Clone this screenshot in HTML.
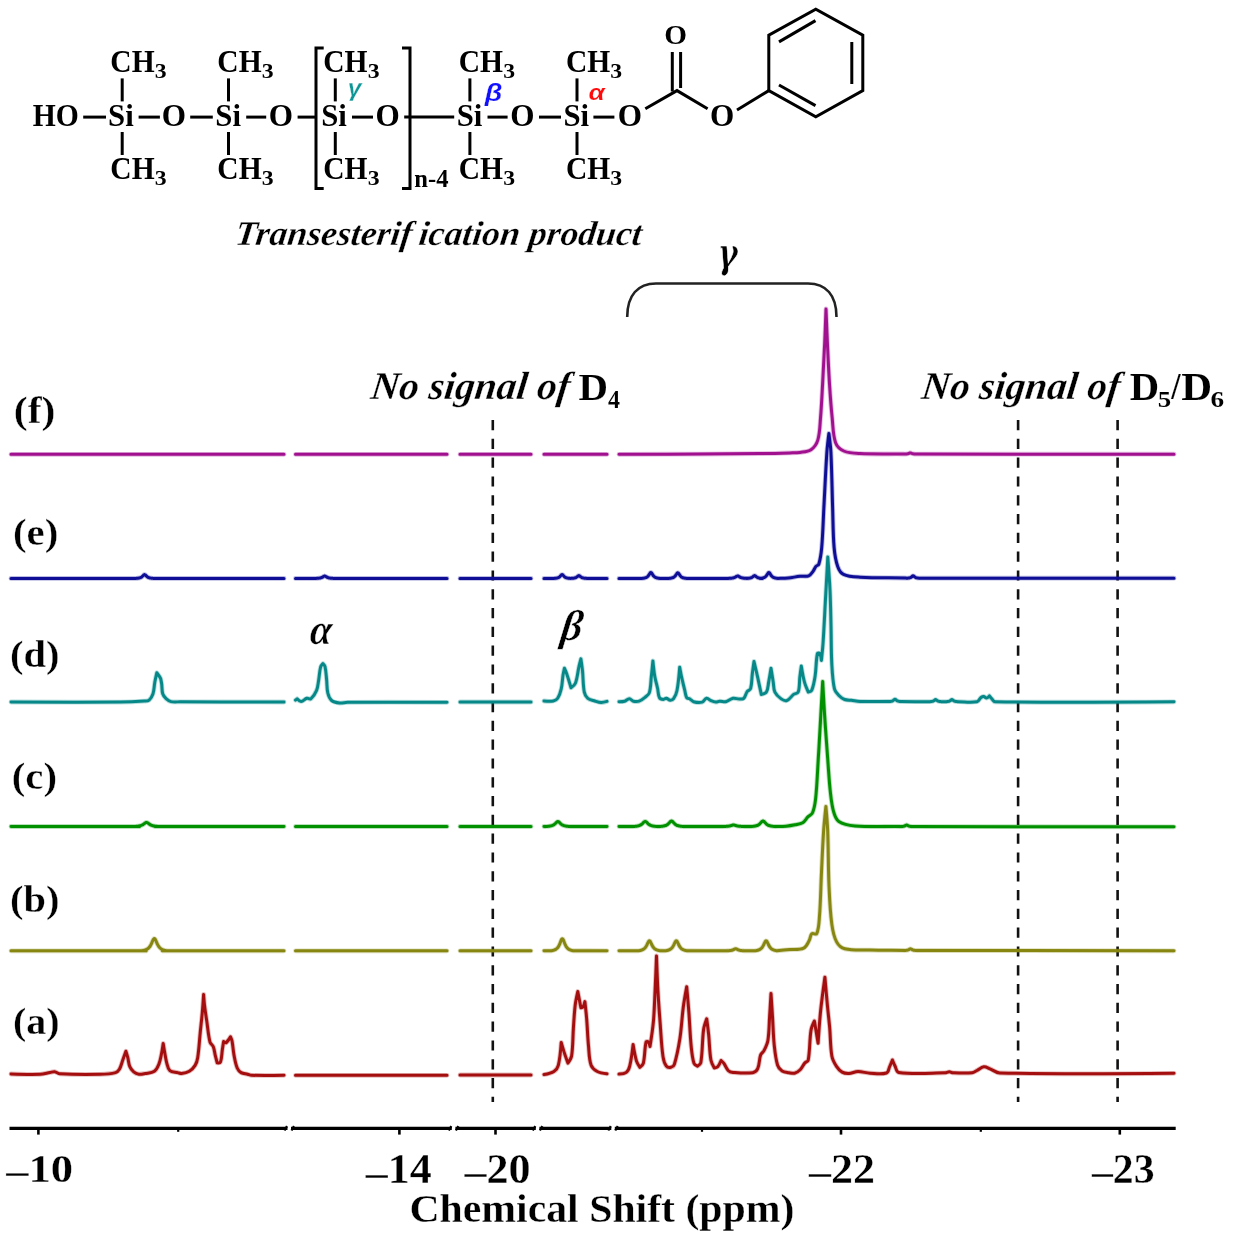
<!DOCTYPE html>
<html><head><meta charset="utf-8"><title>29Si NMR spectra</title>
<style>
html,body{margin:0;padding:0;background:#fff;}
svg{display:block;}
text{font-family:"Liberation Serif","Times New Roman",serif;font-weight:bold;font-size:100px;}
</style></head>
<body>
<svg width="1236" height="1242" viewBox="0 0 1236 1242">
<rect width="1236" height="1242" fill="#fff"/>
<g>
<g stroke="#000" stroke-width="3" fill="none"><line x1="83.2" y1="117.1" x2="106.0" y2="117.1"/><line x1="138.6" y1="117.1" x2="159.9" y2="117.1"/><line x1="190.2" y1="117.1" x2="212.8" y2="117.1"/><line x1="246.2" y1="117.1" x2="266.2" y2="117.1"/><line x1="297.6" y1="117.1" x2="316.8" y2="117.1"/><line x1="352.0" y1="117.1" x2="373.0" y2="117.1"/><line x1="404.2" y1="117.1" x2="454.2" y2="117.1"/><line x1="487.5" y1="117.1" x2="507.6" y2="117.1"/><line x1="539.0" y1="117.1" x2="561.0" y2="117.1"/><line x1="593.4" y1="117.1" x2="614.4" y2="117.1"/><line x1="122.2" y1="78.4" x2="122.2" y2="101.4"/><line x1="122.2" y1="132" x2="122.2" y2="155"/><line x1="228.5" y1="78.4" x2="228.5" y2="101.4"/><line x1="228.5" y1="132" x2="228.5" y2="155"/><line x1="335.3" y1="78.4" x2="335.3" y2="101.4"/><line x1="335.3" y1="132" x2="335.3" y2="155"/><line x1="469.9" y1="78.4" x2="469.9" y2="101.4"/><line x1="469.9" y1="132" x2="469.9" y2="155"/><line x1="577.0" y1="78.4" x2="577.0" y2="101.4"/><line x1="577.0" y1="132" x2="577.0" y2="155"/><path d="M323.7 47.9H316V188.4H323.7" fill="none"/><path d="M402 47.9H410V188.4H402" fill="none"/><path d="M645.3 108.7L677 90.6L707.6 108.7" fill="none"/><line x1="672.3" y1="52" x2="672.3" y2="91.5"/><line x1="680.6" y1="52" x2="680.6" y2="88"/><line x1="737" y1="110" x2="768.8" y2="90.6"/><path d="M768.8 90.6V35.1L815.8 9.1L862.8 35.1V90.6L815.8 116.7Z" fill="none" stroke-linejoin="miter"/><line x1="779" y1="41.9" x2="815.5" y2="20.6"/><line x1="851.8" y1="42" x2="851.8" y2="84"/><line x1="779" y1="85" x2="815.5" y2="105.6"/></g>
<path d="M627.2 317 C627.2 295 638 283.5 656 283.5 H808 C826 283.5 836.5 295 836.5 317" fill="none" stroke="#222" stroke-width="2.6"/>
<line x1="492.8" y1="420" x2="492.8" y2="1102" stroke="#111" stroke-width="2.6" stroke-dasharray="10.2 8.6"/><line x1="1018.1" y1="420" x2="1018.1" y2="1102" stroke="#111" stroke-width="2.6" stroke-dasharray="10.2 8.6"/><line x1="1117.6" y1="420" x2="1117.6" y2="1102" stroke="#111" stroke-width="2.6" stroke-dasharray="10.2 8.6"/>
<path d="M11.0 454.3L284.0 454.3M295.5 454.3L447.0 454.3M460.0 454.3L531.0 454.3M544.0 454.3L607.0 454.3M619.00 454.30C619.00 454.30 673.00 454.23 700.00 454.10C720.00 454.00 740.00 453.87 760.00 453.60C770.00 453.47 780.00 453.20 790.00 452.90C793.34 452.80 796.70 452.90 800.00 452.40C803.73 451.83 807.89 451.85 811.00 449.70C814.23 447.47 816.67 443.85 817.80 440.10C819.92 433.06 819.87 425.53 820.50 418.20C821.47 406.82 821.96 395.40 822.60 384.00C823.36 370.30 824.08 356.60 824.70 342.90C825.21 331.60 826.00 309.00 826.00 309.00C826.00 309.00 826.87 331.60 827.40 342.90C828.04 356.60 828.63 370.31 829.50 384.00C830.23 395.41 831.02 406.83 832.20 418.20C833.05 426.43 832.84 435.00 835.60 442.80C836.89 446.44 840.27 449.44 843.80 451.00C848.80 453.21 854.54 453.33 860.00 453.60C874.65 454.33 889.33 453.83 904.00 454.00C904.05 454.00 903.90 454.10 903.90 454.10C903.90 454.10 904.23 454.09 904.40 454.08C904.57 454.08 904.73 454.07 904.90 454.06C905.07 454.06 905.23 454.05 905.40 454.04C905.57 454.03 905.73 454.02 905.90 454.01C906.07 454.00 906.23 453.98 906.40 453.97C906.57 453.95 906.73 453.93 906.90 453.91C907.07 453.89 907.23 453.86 907.40 453.83C907.57 453.80 907.73 453.77 907.90 453.72C908.07 453.68 908.24 453.63 908.40 453.58C908.57 453.52 908.74 453.45 908.90 453.38C909.07 453.31 909.23 453.23 909.40 453.16C909.56 453.09 909.73 453.00 909.90 452.96C910.06 452.92 910.23 452.89 910.40 452.90C910.57 452.92 910.74 452.97 910.90 453.03C911.07 453.09 911.23 453.17 911.40 453.25C911.57 453.32 911.73 453.40 911.90 453.47C912.06 453.53 912.23 453.59 912.40 453.64C912.56 453.69 912.73 453.73 912.90 453.77C913.07 453.81 913.23 453.84 913.40 453.86C913.57 453.89 913.73 453.91 913.90 453.93C914.07 453.95 914.23 453.97 914.40 453.98C914.57 454.00 914.73 454.01 914.90 454.02C915.07 454.03 915.23 454.04 915.40 454.05C915.57 454.06 915.73 454.07 915.90 454.07C916.07 454.08 916.23 454.09 916.40 454.09C1002.27 454.13 1174.00 454.20 1174.00 454.20" fill="none" stroke="#a0108f" stroke-opacity="0.28" stroke-width="4.8" stroke-linejoin="round" stroke-linecap="round"/><path d="M11.0 454.3L284.0 454.3M295.5 454.3L447.0 454.3M460.0 454.3L531.0 454.3M544.0 454.3L607.0 454.3M619.00 454.30C619.00 454.30 673.00 454.23 700.00 454.10C720.00 454.00 740.00 453.87 760.00 453.60C770.00 453.47 780.00 453.20 790.00 452.90C793.34 452.80 796.70 452.90 800.00 452.40C803.73 451.83 807.89 451.85 811.00 449.70C814.23 447.47 816.67 443.85 817.80 440.10C819.92 433.06 819.87 425.53 820.50 418.20C821.47 406.82 821.96 395.40 822.60 384.00C823.36 370.30 824.08 356.60 824.70 342.90C825.21 331.60 826.00 309.00 826.00 309.00C826.00 309.00 826.87 331.60 827.40 342.90C828.04 356.60 828.63 370.31 829.50 384.00C830.23 395.41 831.02 406.83 832.20 418.20C833.05 426.43 832.84 435.00 835.60 442.80C836.89 446.44 840.27 449.44 843.80 451.00C848.80 453.21 854.54 453.33 860.00 453.60C874.65 454.33 889.33 453.83 904.00 454.00C904.05 454.00 903.90 454.10 903.90 454.10C903.90 454.10 904.23 454.09 904.40 454.08C904.57 454.08 904.73 454.07 904.90 454.06C905.07 454.06 905.23 454.05 905.40 454.04C905.57 454.03 905.73 454.02 905.90 454.01C906.07 454.00 906.23 453.98 906.40 453.97C906.57 453.95 906.73 453.93 906.90 453.91C907.07 453.89 907.23 453.86 907.40 453.83C907.57 453.80 907.73 453.77 907.90 453.72C908.07 453.68 908.24 453.63 908.40 453.58C908.57 453.52 908.74 453.45 908.90 453.38C909.07 453.31 909.23 453.23 909.40 453.16C909.56 453.09 909.73 453.00 909.90 452.96C910.06 452.92 910.23 452.89 910.40 452.90C910.57 452.92 910.74 452.97 910.90 453.03C911.07 453.09 911.23 453.17 911.40 453.25C911.57 453.32 911.73 453.40 911.90 453.47C912.06 453.53 912.23 453.59 912.40 453.64C912.56 453.69 912.73 453.73 912.90 453.77C913.07 453.81 913.23 453.84 913.40 453.86C913.57 453.89 913.73 453.91 913.90 453.93C914.07 453.95 914.23 453.97 914.40 453.98C914.57 454.00 914.73 454.01 914.90 454.02C915.07 454.03 915.23 454.04 915.40 454.05C915.57 454.06 915.73 454.07 915.90 454.07C916.07 454.08 916.23 454.09 916.40 454.09C1002.27 454.13 1174.00 454.20 1174.00 454.20" fill="none" stroke="#a0108f" stroke-width="3.0" stroke-linejoin="round" stroke-linecap="round"/><path d="M11.00 578.40C11.00 578.40 94.20 578.41 135.80 578.40C135.97 578.40 136.13 578.38 136.30 578.37C136.47 578.35 136.63 578.34 136.80 578.32C136.97 578.31 137.13 578.29 137.30 578.28C137.47 578.26 137.63 578.24 137.80 578.22C137.97 578.20 138.13 578.17 138.30 578.15C138.47 578.12 138.63 578.09 138.80 578.06C138.97 578.03 139.13 578.00 139.30 577.96C139.47 577.92 139.63 577.88 139.80 577.83C139.97 577.78 140.14 577.73 140.30 577.67C140.47 577.61 140.64 577.54 140.80 577.47C140.97 577.39 141.14 577.30 141.30 577.21C141.47 577.11 141.64 577.00 141.80 576.89C141.97 576.76 142.14 576.62 142.30 576.48C142.47 576.33 142.64 576.17 142.80 576.00C142.97 575.83 143.13 575.65 143.30 575.47C143.46 575.31 143.62 575.13 143.80 574.98C143.95 574.86 144.11 574.72 144.30 574.66C144.46 574.60 144.64 574.59 144.80 574.63C144.98 574.67 145.15 574.79 145.30 574.90C145.48 575.04 145.64 575.21 145.80 575.37C145.97 575.54 146.13 575.72 146.30 575.90C146.46 576.07 146.63 576.23 146.80 576.39C146.96 576.54 147.13 576.68 147.30 576.81C147.46 576.93 147.63 577.05 147.80 577.15C147.96 577.25 148.13 577.34 148.30 577.42C148.46 577.50 148.63 577.57 148.80 577.63C148.96 577.70 149.13 577.75 149.30 577.80C149.47 577.85 149.63 577.89 149.80 577.94C149.97 577.98 150.13 578.01 150.30 578.04C150.47 578.08 150.63 578.11 150.80 578.13C150.97 578.16 151.13 578.18 151.30 578.20C151.47 578.23 151.63 578.25 151.80 578.26C151.97 578.28 152.13 578.30 152.30 578.32C152.47 578.33 152.63 578.34 152.80 578.36C152.97 578.37 153.13 578.39 153.30 578.39C196.87 578.41 284.00 578.40 284.00 578.40M295.50 578.40C295.50 578.40 309.10 578.41 315.90 578.40C316.07 578.40 316.23 578.39 316.40 578.38C316.57 578.37 316.73 578.36 316.90 578.35C317.07 578.34 317.23 578.33 317.40 578.32C317.57 578.31 317.73 578.30 317.90 578.28C318.07 578.27 318.23 578.26 318.40 578.24C318.57 578.22 318.73 578.21 318.90 578.19C319.07 578.17 319.23 578.15 319.40 578.12C319.57 578.10 319.73 578.07 319.90 578.04C320.07 578.01 320.23 577.98 320.40 577.94C320.57 577.90 320.73 577.86 320.90 577.81C321.07 577.76 321.24 577.71 321.40 577.65C321.57 577.59 321.74 577.52 321.90 577.44C322.07 577.37 322.24 577.28 322.40 577.19C322.57 577.09 322.74 576.99 322.90 576.89C323.07 576.78 323.23 576.66 323.40 576.55C323.56 576.45 323.73 576.33 323.90 576.24C324.06 576.16 324.22 576.08 324.40 576.04C324.56 576.00 324.74 575.99 324.90 576.02C325.07 576.04 325.24 576.11 325.40 576.19C325.58 576.27 325.74 576.38 325.90 576.49C326.07 576.59 326.23 576.71 326.40 576.82C326.56 576.93 326.73 577.03 326.90 577.13C327.06 577.23 327.23 577.32 327.40 577.40C327.56 577.47 327.73 577.55 327.90 577.61C328.06 577.67 328.23 577.73 328.40 577.78C328.57 577.83 328.73 577.87 328.90 577.92C329.07 577.96 329.23 577.99 329.40 578.02C329.57 578.05 329.73 578.08 329.90 578.11C330.07 578.13 330.23 578.15 330.40 578.18C330.57 578.20 330.73 578.21 330.90 578.23C331.07 578.25 331.23 578.26 331.40 578.28C331.57 578.29 331.73 578.30 331.90 578.31C332.07 578.33 332.23 578.34 332.40 578.35C332.57 578.36 332.73 578.36 332.90 578.37C333.07 578.38 333.23 578.40 333.40 578.40C371.27 578.40 447.00 578.40 447.00 578.40M460.0 578.4L531.0 578.4M544.00 578.40C544.00 578.40 550.73 578.41 554.10 578.40C554.27 578.40 554.43 578.38 554.60 578.36C554.77 578.35 554.93 578.33 555.10 578.32C555.27 578.30 555.43 578.28 555.60 578.26C555.77 578.24 555.93 578.22 556.10 578.19C556.27 578.17 556.43 578.14 556.60 578.11C556.77 578.08 556.93 578.04 557.10 578.00C557.27 577.96 557.43 577.92 557.60 577.87C557.77 577.82 557.94 577.77 558.10 577.70C558.27 577.64 558.44 577.57 558.60 577.49C558.77 577.40 558.94 577.31 559.10 577.21C559.27 577.10 559.44 576.98 559.60 576.85C559.77 576.71 559.94 576.55 560.10 576.39C560.27 576.22 560.44 576.03 560.60 575.85C560.77 575.66 560.92 575.45 561.10 575.27C561.26 575.10 561.41 574.92 561.60 574.79C561.75 574.69 561.92 574.60 562.10 574.60C562.28 574.60 562.45 574.69 562.60 574.79C562.79 574.92 562.94 575.10 563.10 575.27C563.28 575.45 563.43 575.66 563.60 575.85C563.76 576.03 563.93 576.22 564.10 576.39C564.26 576.55 564.43 576.71 564.60 576.85C564.76 576.98 564.93 577.10 565.10 577.21C565.26 577.31 565.43 577.40 565.60 577.49C565.76 577.57 565.93 577.64 566.10 577.70C566.26 577.77 566.43 577.82 566.60 577.87C566.77 577.92 566.93 577.96 567.10 578.00C567.27 578.04 567.43 578.08 567.60 578.11C567.77 578.14 567.93 578.17 568.10 578.19C568.27 578.22 568.43 578.24 568.60 578.26C568.77 578.28 568.93 578.30 569.10 578.32C569.27 578.33 569.43 578.35 569.60 578.36C569.77 578.38 569.93 578.40 570.10 578.40C570.53 578.40 570.97 578.39 571.40 578.37C571.57 578.37 571.73 578.35 571.90 578.34C572.07 578.32 572.23 578.31 572.40 578.30C572.57 578.28 572.73 578.26 572.90 578.25C573.07 578.23 573.23 578.21 573.40 578.18C573.57 578.16 573.73 578.14 573.90 578.11C574.07 578.08 574.23 578.05 574.40 578.01C574.57 577.97 574.73 577.93 574.90 577.89C575.07 577.84 575.24 577.79 575.40 577.73C575.57 577.67 575.74 577.60 575.90 577.52C576.07 577.44 576.24 577.35 576.40 577.26C576.57 577.15 576.74 577.04 576.90 576.92C577.07 576.79 577.24 576.65 577.40 576.52C577.57 576.38 577.73 576.23 577.90 576.09C578.06 575.97 578.22 575.83 578.40 575.74C578.56 575.66 578.73 575.60 578.90 575.60C579.07 575.60 579.24 575.66 579.40 575.74C579.58 575.83 579.74 575.97 579.90 576.09C580.07 576.23 580.23 576.38 580.40 576.52C580.56 576.65 580.73 576.79 580.90 576.92C581.06 577.04 581.23 577.15 581.40 577.26C581.56 577.35 581.73 577.44 581.90 577.52C582.06 577.60 582.23 577.67 582.40 577.73C582.56 577.79 582.73 577.84 582.90 577.89C583.07 577.93 583.23 577.97 583.40 578.01C583.57 578.05 583.73 578.08 583.90 578.11C584.07 578.14 584.23 578.16 584.40 578.18C584.57 578.21 584.73 578.23 584.90 578.25C585.07 578.26 585.23 578.28 585.40 578.30C585.57 578.31 585.73 578.32 585.90 578.34C586.07 578.35 586.23 578.36 586.40 578.37C586.57 578.38 586.73 578.40 586.90 578.40C593.60 578.41 607.00 578.40 607.00 578.40M619.00 578.40C619.00 578.40 634.40 578.42 642.10 578.40C642.27 578.40 642.43 578.37 642.60 578.35C642.77 578.33 642.93 578.31 643.10 578.28C643.27 578.26 643.43 578.23 643.60 578.21C643.77 578.18 643.93 578.15 644.10 578.12C644.27 578.08 644.43 578.05 644.60 578.01C644.77 577.97 644.93 577.93 645.10 577.88C645.27 577.83 645.44 577.78 645.60 577.72C645.77 577.65 645.94 577.59 646.10 577.52C646.27 577.44 646.44 577.36 646.60 577.27C646.77 577.17 646.94 577.06 647.10 576.95C647.27 576.83 647.44 576.69 647.60 576.55C647.78 576.39 647.94 576.22 648.10 576.05C648.28 575.85 648.44 575.64 648.60 575.42C648.78 575.18 648.94 574.93 649.10 574.68C649.27 574.41 649.43 574.13 649.60 573.86C649.76 573.60 649.91 573.33 650.10 573.09C650.25 572.91 650.39 572.70 650.60 572.59C650.75 572.51 650.94 572.48 651.10 572.54C651.30 572.62 651.46 572.80 651.60 572.96C651.79 573.19 651.94 573.45 652.10 573.69C652.27 573.96 652.43 574.24 652.60 574.52C652.76 574.77 652.92 575.03 653.10 575.28C653.26 575.51 653.42 575.72 653.60 575.93C653.76 576.12 653.92 576.29 654.10 576.46C654.26 576.61 654.43 576.75 654.60 576.88C654.76 577.00 654.93 577.11 655.10 577.21C655.26 577.30 655.43 577.39 655.60 577.47C655.76 577.55 655.93 577.62 656.10 577.68C656.26 577.74 656.43 577.80 656.60 577.85C656.77 577.90 656.93 577.94 657.10 577.98C657.27 578.03 657.43 578.06 657.60 578.10C657.77 578.13 657.93 578.16 658.10 578.19C658.27 578.22 658.43 578.24 658.60 578.27C658.77 578.29 658.93 578.31 659.10 578.33C659.27 578.35 659.43 578.39 659.60 578.39C662.73 578.41 665.87 578.41 669.00 578.40C669.17 578.40 669.33 578.37 669.50 578.35C669.67 578.33 669.83 578.31 670.00 578.29C670.17 578.27 670.33 578.24 670.50 578.22C670.67 578.19 670.83 578.16 671.00 578.13C671.17 578.10 671.33 578.07 671.50 578.03C671.67 577.99 671.83 577.95 672.00 577.90C672.17 577.86 672.34 577.81 672.50 577.75C672.67 577.69 672.84 577.63 673.00 577.56C673.17 577.49 673.34 577.41 673.50 577.32C673.67 577.23 673.84 577.13 674.00 577.02C674.17 576.91 674.34 576.78 674.50 576.65C674.68 576.50 674.84 576.34 675.00 576.17C675.18 575.98 675.34 575.78 675.50 575.57C675.68 575.35 675.84 575.11 676.00 574.87C676.17 574.61 676.33 574.34 676.50 574.09C676.66 573.84 676.81 573.59 677.00 573.36C677.15 573.19 677.30 572.99 677.50 572.89C677.65 572.81 677.84 572.78 678.00 572.84C678.20 572.91 678.36 573.08 678.50 573.24C678.69 573.45 678.84 573.70 679.00 573.93C679.17 574.19 679.33 574.46 679.50 574.71C679.66 574.96 679.82 575.21 680.00 575.44C680.16 575.65 680.32 575.86 680.50 576.06C680.66 576.23 680.82 576.40 681.00 576.56C681.16 576.70 681.33 576.83 681.50 576.96C681.66 577.07 681.83 577.17 682.00 577.27C682.16 577.36 682.33 577.44 682.50 577.52C682.66 577.59 682.83 577.66 683.00 577.72C683.16 577.77 683.33 577.83 683.50 577.88C683.67 577.92 683.83 577.97 684.00 578.01C684.17 578.04 684.33 578.08 684.50 578.11C684.67 578.14 684.83 578.17 685.00 578.20C685.17 578.23 685.33 578.25 685.50 578.27C685.67 578.30 685.83 578.32 686.00 578.34C686.17 578.36 686.33 578.39 686.50 578.39C700.37 578.41 714.23 578.40 728.10 578.40C728.27 578.40 728.43 578.39 728.60 578.38C728.77 578.37 728.93 578.37 729.10 578.36C729.27 578.35 729.43 578.34 729.60 578.33C729.77 578.32 729.93 578.31 730.10 578.30C730.27 578.29 730.43 578.27 730.60 578.26C730.77 578.25 730.93 578.23 731.10 578.22C731.27 578.20 731.43 578.18 731.60 578.16C731.77 578.14 731.93 578.12 732.10 578.10C732.27 578.07 732.43 578.05 732.60 578.02C732.77 577.99 732.93 577.96 733.10 577.92C733.27 577.88 733.43 577.84 733.60 577.80C733.77 577.75 733.94 577.70 734.10 577.65C734.27 577.59 734.44 577.53 734.60 577.46C734.77 577.39 734.94 577.32 735.10 577.23C735.27 577.15 735.44 577.06 735.60 576.97C735.77 576.87 735.93 576.76 736.10 576.66C736.27 576.56 736.43 576.46 736.60 576.36C736.76 576.27 736.93 576.18 737.10 576.12C737.26 576.06 737.43 576.01 737.60 576.00C737.77 575.99 737.94 576.01 738.10 576.05C738.27 576.10 738.44 576.18 738.60 576.25C738.77 576.34 738.93 576.44 739.10 576.54C739.27 576.64 739.43 576.75 739.60 576.85C739.77 576.95 739.93 577.04 740.10 577.13C740.26 577.22 740.43 577.30 740.60 577.38C740.76 577.45 740.93 577.52 741.10 577.58C741.26 577.64 741.43 577.69 741.60 577.74C741.77 577.79 741.93 577.83 742.10 577.87C742.27 577.91 742.43 577.95 742.60 577.98C742.77 578.01 742.93 578.04 743.10 578.07C743.27 578.09 743.43 578.12 743.60 578.14C743.77 578.16 743.93 578.18 744.10 578.20C744.27 578.21 744.43 578.23 744.60 578.24C744.77 578.26 744.93 578.27 745.10 578.28C745.27 578.30 745.43 578.31 745.60 578.32C745.77 578.33 745.93 578.34 746.10 578.35C746.27 578.36 746.43 578.36 746.60 578.37C746.77 578.38 747.10 578.23 747.10 578.39C747.10 578.56 746.60 578.40 746.60 578.40C746.60 578.40 746.93 578.38 747.10 578.37C747.27 578.36 747.43 578.35 747.60 578.34C747.77 578.32 747.93 578.31 748.10 578.30C748.27 578.28 748.43 578.26 748.60 578.25C748.77 578.23 748.93 578.21 749.10 578.18C749.27 578.16 749.43 578.14 749.60 578.11C749.77 578.08 749.93 578.05 750.10 578.01C750.27 577.97 750.43 577.93 750.60 577.89C750.77 577.84 750.94 577.79 751.10 577.73C751.27 577.67 751.44 577.60 751.60 577.52C751.77 577.44 751.94 577.35 752.10 577.26C752.27 577.15 752.44 577.04 752.60 576.92C752.77 576.79 752.94 576.65 753.10 576.52C753.27 576.38 753.43 576.23 753.60 576.09C753.76 575.97 753.92 575.83 754.10 575.74C754.26 575.66 754.43 575.60 754.60 575.60C754.77 575.60 754.94 575.66 755.10 575.74C755.28 575.83 755.44 575.97 755.60 576.09C755.77 576.23 755.93 576.38 756.10 576.52C756.26 576.65 756.43 576.79 756.60 576.92C756.76 577.04 756.93 577.15 757.10 577.26C757.26 577.35 757.43 577.44 757.60 577.52C757.76 577.60 757.93 577.67 758.10 577.73C758.26 577.79 758.43 577.84 758.60 577.89C758.77 577.93 758.93 577.97 759.10 578.01C759.27 578.05 759.43 578.08 759.60 578.11C759.77 578.14 759.93 578.16 760.10 578.18C760.27 578.21 760.43 578.23 760.60 578.25C760.77 578.26 760.93 578.28 761.10 578.30C761.27 578.31 761.43 578.32 761.60 578.34C761.77 578.35 761.93 578.36 762.10 578.37C762.27 578.38 762.77 578.40 762.60 578.40C761.77 578.41 760.93 578.42 760.10 578.40C759.93 578.40 760.43 578.37 760.60 578.35C760.77 578.33 760.93 578.31 761.10 578.28C761.27 578.26 761.43 578.23 761.60 578.21C761.77 578.18 761.93 578.15 762.10 578.12C762.27 578.08 762.43 578.05 762.60 578.01C762.77 577.97 762.93 577.93 763.10 577.88C763.27 577.83 763.44 577.78 763.60 577.72C763.77 577.65 763.94 577.59 764.10 577.52C764.27 577.44 764.44 577.36 764.60 577.27C764.77 577.17 764.94 577.06 765.10 576.95C765.27 576.83 765.44 576.69 765.60 576.55C765.78 576.39 765.94 576.22 766.10 576.05C766.28 575.85 766.44 575.64 766.60 575.42C766.78 575.18 766.94 574.93 767.10 574.68C767.27 574.41 767.43 574.13 767.60 573.86C767.76 573.60 767.91 573.33 768.10 573.09C768.25 572.91 768.39 572.70 768.60 572.59C768.75 572.51 768.94 572.48 769.10 572.54C769.30 572.62 769.46 572.80 769.60 572.96C769.79 573.19 769.94 573.45 770.10 573.69C770.27 573.96 770.43 574.24 770.60 574.52C770.76 574.77 770.92 575.03 771.10 575.28C771.26 575.51 771.42 575.72 771.60 575.93C771.76 576.12 771.92 576.29 772.10 576.46C772.26 576.61 772.43 576.75 772.60 576.88C772.76 577.00 772.93 577.11 773.10 577.21C773.26 577.30 773.43 577.39 773.60 577.47C773.76 577.55 773.93 577.62 774.10 577.68C774.26 577.74 774.43 577.80 774.60 577.85C774.77 577.90 774.93 577.94 775.10 577.98C775.27 578.03 775.43 578.06 775.60 578.10C775.77 578.13 775.93 578.16 776.10 578.19C776.27 578.22 776.43 578.24 776.60 578.27C776.77 578.29 776.93 578.31 777.10 578.33C777.27 578.35 777.43 578.39 777.60 578.39C781.07 578.32 784.55 578.44 788.00 578.10C792.03 577.71 795.97 576.65 800.00 576.20C802.89 575.88 805.98 576.81 808.70 575.80C810.62 575.09 811.75 573.03 813.00 571.40C814.17 569.87 814.69 567.90 815.90 566.40C816.66 565.46 818.44 565.36 818.80 564.20C820.46 558.80 821.20 553.13 821.70 547.50C822.90 534.03 823.16 520.50 823.90 507.00C824.90 488.67 825.65 470.32 826.90 452.00C827.32 445.81 828.90 433.50 828.90 433.50C828.90 433.50 830.59 445.81 830.90 452.00C831.82 470.32 831.99 488.67 832.60 507.00C833.05 520.50 832.94 534.04 834.10 547.50C834.65 553.89 835.58 560.35 837.70 566.40C838.78 569.48 840.56 572.88 843.50 574.30C848.53 576.73 854.43 576.86 860.00 577.20C874.98 578.10 890.00 577.68 905.00 578.00C905.57 578.01 906.13 578.16 906.70 578.20C906.87 578.21 907.03 578.18 907.20 578.17C907.37 578.16 907.53 578.14 907.70 578.13C907.87 578.11 908.03 578.10 908.20 578.08C908.37 578.06 908.53 578.04 908.70 578.02C908.87 577.99 909.03 577.96 909.20 577.93C909.37 577.90 909.53 577.86 909.70 577.82C909.87 577.77 910.04 577.72 910.20 577.66C910.37 577.60 910.54 577.53 910.70 577.45C910.87 577.36 911.04 577.26 911.20 577.15C911.37 577.03 911.54 576.90 911.70 576.77C911.87 576.62 912.03 576.46 912.20 576.31C912.36 576.17 912.51 576.01 912.70 575.92C912.85 575.84 913.03 575.78 913.20 575.81C913.38 575.83 913.55 575.95 913.70 576.05C913.88 576.18 914.03 576.35 914.20 576.49C914.37 576.64 914.53 576.80 914.70 576.93C914.86 577.06 915.03 577.18 915.20 577.28C915.36 577.38 915.53 577.47 915.70 577.54C915.86 577.61 916.03 577.67 916.20 577.73C916.36 577.78 916.53 577.83 916.70 577.87C916.87 577.91 917.03 577.94 917.20 577.97C917.37 578.00 917.53 578.02 917.70 578.04C917.87 578.07 918.03 578.08 918.20 578.10C918.37 578.12 918.53 578.13 918.70 578.15C918.87 578.16 919.03 578.18 919.20 578.18C1004.13 578.20 1174.00 578.20 1174.00 578.20" fill="none" stroke="#0e0e96" stroke-opacity="0.28" stroke-width="4.8" stroke-linejoin="round" stroke-linecap="round"/><path d="M11.00 578.40C11.00 578.40 94.20 578.41 135.80 578.40C135.97 578.40 136.13 578.38 136.30 578.37C136.47 578.35 136.63 578.34 136.80 578.32C136.97 578.31 137.13 578.29 137.30 578.28C137.47 578.26 137.63 578.24 137.80 578.22C137.97 578.20 138.13 578.17 138.30 578.15C138.47 578.12 138.63 578.09 138.80 578.06C138.97 578.03 139.13 578.00 139.30 577.96C139.47 577.92 139.63 577.88 139.80 577.83C139.97 577.78 140.14 577.73 140.30 577.67C140.47 577.61 140.64 577.54 140.80 577.47C140.97 577.39 141.14 577.30 141.30 577.21C141.47 577.11 141.64 577.00 141.80 576.89C141.97 576.76 142.14 576.62 142.30 576.48C142.47 576.33 142.64 576.17 142.80 576.00C142.97 575.83 143.13 575.65 143.30 575.47C143.46 575.31 143.62 575.13 143.80 574.98C143.95 574.86 144.11 574.72 144.30 574.66C144.46 574.60 144.64 574.59 144.80 574.63C144.98 574.67 145.15 574.79 145.30 574.90C145.48 575.04 145.64 575.21 145.80 575.37C145.97 575.54 146.13 575.72 146.30 575.90C146.46 576.07 146.63 576.23 146.80 576.39C146.96 576.54 147.13 576.68 147.30 576.81C147.46 576.93 147.63 577.05 147.80 577.15C147.96 577.25 148.13 577.34 148.30 577.42C148.46 577.50 148.63 577.57 148.80 577.63C148.96 577.70 149.13 577.75 149.30 577.80C149.47 577.85 149.63 577.89 149.80 577.94C149.97 577.98 150.13 578.01 150.30 578.04C150.47 578.08 150.63 578.11 150.80 578.13C150.97 578.16 151.13 578.18 151.30 578.20C151.47 578.23 151.63 578.25 151.80 578.26C151.97 578.28 152.13 578.30 152.30 578.32C152.47 578.33 152.63 578.34 152.80 578.36C152.97 578.37 153.13 578.39 153.30 578.39C196.87 578.41 284.00 578.40 284.00 578.40M295.50 578.40C295.50 578.40 309.10 578.41 315.90 578.40C316.07 578.40 316.23 578.39 316.40 578.38C316.57 578.37 316.73 578.36 316.90 578.35C317.07 578.34 317.23 578.33 317.40 578.32C317.57 578.31 317.73 578.30 317.90 578.28C318.07 578.27 318.23 578.26 318.40 578.24C318.57 578.22 318.73 578.21 318.90 578.19C319.07 578.17 319.23 578.15 319.40 578.12C319.57 578.10 319.73 578.07 319.90 578.04C320.07 578.01 320.23 577.98 320.40 577.94C320.57 577.90 320.73 577.86 320.90 577.81C321.07 577.76 321.24 577.71 321.40 577.65C321.57 577.59 321.74 577.52 321.90 577.44C322.07 577.37 322.24 577.28 322.40 577.19C322.57 577.09 322.74 576.99 322.90 576.89C323.07 576.78 323.23 576.66 323.40 576.55C323.56 576.45 323.73 576.33 323.90 576.24C324.06 576.16 324.22 576.08 324.40 576.04C324.56 576.00 324.74 575.99 324.90 576.02C325.07 576.04 325.24 576.11 325.40 576.19C325.58 576.27 325.74 576.38 325.90 576.49C326.07 576.59 326.23 576.71 326.40 576.82C326.56 576.93 326.73 577.03 326.90 577.13C327.06 577.23 327.23 577.32 327.40 577.40C327.56 577.47 327.73 577.55 327.90 577.61C328.06 577.67 328.23 577.73 328.40 577.78C328.57 577.83 328.73 577.87 328.90 577.92C329.07 577.96 329.23 577.99 329.40 578.02C329.57 578.05 329.73 578.08 329.90 578.11C330.07 578.13 330.23 578.15 330.40 578.18C330.57 578.20 330.73 578.21 330.90 578.23C331.07 578.25 331.23 578.26 331.40 578.28C331.57 578.29 331.73 578.30 331.90 578.31C332.07 578.33 332.23 578.34 332.40 578.35C332.57 578.36 332.73 578.36 332.90 578.37C333.07 578.38 333.23 578.40 333.40 578.40C371.27 578.40 447.00 578.40 447.00 578.40M460.0 578.4L531.0 578.4M544.00 578.40C544.00 578.40 550.73 578.41 554.10 578.40C554.27 578.40 554.43 578.38 554.60 578.36C554.77 578.35 554.93 578.33 555.10 578.32C555.27 578.30 555.43 578.28 555.60 578.26C555.77 578.24 555.93 578.22 556.10 578.19C556.27 578.17 556.43 578.14 556.60 578.11C556.77 578.08 556.93 578.04 557.10 578.00C557.27 577.96 557.43 577.92 557.60 577.87C557.77 577.82 557.94 577.77 558.10 577.70C558.27 577.64 558.44 577.57 558.60 577.49C558.77 577.40 558.94 577.31 559.10 577.21C559.27 577.10 559.44 576.98 559.60 576.85C559.77 576.71 559.94 576.55 560.10 576.39C560.27 576.22 560.44 576.03 560.60 575.85C560.77 575.66 560.92 575.45 561.10 575.27C561.26 575.10 561.41 574.92 561.60 574.79C561.75 574.69 561.92 574.60 562.10 574.60C562.28 574.60 562.45 574.69 562.60 574.79C562.79 574.92 562.94 575.10 563.10 575.27C563.28 575.45 563.43 575.66 563.60 575.85C563.76 576.03 563.93 576.22 564.10 576.39C564.26 576.55 564.43 576.71 564.60 576.85C564.76 576.98 564.93 577.10 565.10 577.21C565.26 577.31 565.43 577.40 565.60 577.49C565.76 577.57 565.93 577.64 566.10 577.70C566.26 577.77 566.43 577.82 566.60 577.87C566.77 577.92 566.93 577.96 567.10 578.00C567.27 578.04 567.43 578.08 567.60 578.11C567.77 578.14 567.93 578.17 568.10 578.19C568.27 578.22 568.43 578.24 568.60 578.26C568.77 578.28 568.93 578.30 569.10 578.32C569.27 578.33 569.43 578.35 569.60 578.36C569.77 578.38 569.93 578.40 570.10 578.40C570.53 578.40 570.97 578.39 571.40 578.37C571.57 578.37 571.73 578.35 571.90 578.34C572.07 578.32 572.23 578.31 572.40 578.30C572.57 578.28 572.73 578.26 572.90 578.25C573.07 578.23 573.23 578.21 573.40 578.18C573.57 578.16 573.73 578.14 573.90 578.11C574.07 578.08 574.23 578.05 574.40 578.01C574.57 577.97 574.73 577.93 574.90 577.89C575.07 577.84 575.24 577.79 575.40 577.73C575.57 577.67 575.74 577.60 575.90 577.52C576.07 577.44 576.24 577.35 576.40 577.26C576.57 577.15 576.74 577.04 576.90 576.92C577.07 576.79 577.24 576.65 577.40 576.52C577.57 576.38 577.73 576.23 577.90 576.09C578.06 575.97 578.22 575.83 578.40 575.74C578.56 575.66 578.73 575.60 578.90 575.60C579.07 575.60 579.24 575.66 579.40 575.74C579.58 575.83 579.74 575.97 579.90 576.09C580.07 576.23 580.23 576.38 580.40 576.52C580.56 576.65 580.73 576.79 580.90 576.92C581.06 577.04 581.23 577.15 581.40 577.26C581.56 577.35 581.73 577.44 581.90 577.52C582.06 577.60 582.23 577.67 582.40 577.73C582.56 577.79 582.73 577.84 582.90 577.89C583.07 577.93 583.23 577.97 583.40 578.01C583.57 578.05 583.73 578.08 583.90 578.11C584.07 578.14 584.23 578.16 584.40 578.18C584.57 578.21 584.73 578.23 584.90 578.25C585.07 578.26 585.23 578.28 585.40 578.30C585.57 578.31 585.73 578.32 585.90 578.34C586.07 578.35 586.23 578.36 586.40 578.37C586.57 578.38 586.73 578.40 586.90 578.40C593.60 578.41 607.00 578.40 607.00 578.40M619.00 578.40C619.00 578.40 634.40 578.42 642.10 578.40C642.27 578.40 642.43 578.37 642.60 578.35C642.77 578.33 642.93 578.31 643.10 578.28C643.27 578.26 643.43 578.23 643.60 578.21C643.77 578.18 643.93 578.15 644.10 578.12C644.27 578.08 644.43 578.05 644.60 578.01C644.77 577.97 644.93 577.93 645.10 577.88C645.27 577.83 645.44 577.78 645.60 577.72C645.77 577.65 645.94 577.59 646.10 577.52C646.27 577.44 646.44 577.36 646.60 577.27C646.77 577.17 646.94 577.06 647.10 576.95C647.27 576.83 647.44 576.69 647.60 576.55C647.78 576.39 647.94 576.22 648.10 576.05C648.28 575.85 648.44 575.64 648.60 575.42C648.78 575.18 648.94 574.93 649.10 574.68C649.27 574.41 649.43 574.13 649.60 573.86C649.76 573.60 649.91 573.33 650.10 573.09C650.25 572.91 650.39 572.70 650.60 572.59C650.75 572.51 650.94 572.48 651.10 572.54C651.30 572.62 651.46 572.80 651.60 572.96C651.79 573.19 651.94 573.45 652.10 573.69C652.27 573.96 652.43 574.24 652.60 574.52C652.76 574.77 652.92 575.03 653.10 575.28C653.26 575.51 653.42 575.72 653.60 575.93C653.76 576.12 653.92 576.29 654.10 576.46C654.26 576.61 654.43 576.75 654.60 576.88C654.76 577.00 654.93 577.11 655.10 577.21C655.26 577.30 655.43 577.39 655.60 577.47C655.76 577.55 655.93 577.62 656.10 577.68C656.26 577.74 656.43 577.80 656.60 577.85C656.77 577.90 656.93 577.94 657.10 577.98C657.27 578.03 657.43 578.06 657.60 578.10C657.77 578.13 657.93 578.16 658.10 578.19C658.27 578.22 658.43 578.24 658.60 578.27C658.77 578.29 658.93 578.31 659.10 578.33C659.27 578.35 659.43 578.39 659.60 578.39C662.73 578.41 665.87 578.41 669.00 578.40C669.17 578.40 669.33 578.37 669.50 578.35C669.67 578.33 669.83 578.31 670.00 578.29C670.17 578.27 670.33 578.24 670.50 578.22C670.67 578.19 670.83 578.16 671.00 578.13C671.17 578.10 671.33 578.07 671.50 578.03C671.67 577.99 671.83 577.95 672.00 577.90C672.17 577.86 672.34 577.81 672.50 577.75C672.67 577.69 672.84 577.63 673.00 577.56C673.17 577.49 673.34 577.41 673.50 577.32C673.67 577.23 673.84 577.13 674.00 577.02C674.17 576.91 674.34 576.78 674.50 576.65C674.68 576.50 674.84 576.34 675.00 576.17C675.18 575.98 675.34 575.78 675.50 575.57C675.68 575.35 675.84 575.11 676.00 574.87C676.17 574.61 676.33 574.34 676.50 574.09C676.66 573.84 676.81 573.59 677.00 573.36C677.15 573.19 677.30 572.99 677.50 572.89C677.65 572.81 677.84 572.78 678.00 572.84C678.20 572.91 678.36 573.08 678.50 573.24C678.69 573.45 678.84 573.70 679.00 573.93C679.17 574.19 679.33 574.46 679.50 574.71C679.66 574.96 679.82 575.21 680.00 575.44C680.16 575.65 680.32 575.86 680.50 576.06C680.66 576.23 680.82 576.40 681.00 576.56C681.16 576.70 681.33 576.83 681.50 576.96C681.66 577.07 681.83 577.17 682.00 577.27C682.16 577.36 682.33 577.44 682.50 577.52C682.66 577.59 682.83 577.66 683.00 577.72C683.16 577.77 683.33 577.83 683.50 577.88C683.67 577.92 683.83 577.97 684.00 578.01C684.17 578.04 684.33 578.08 684.50 578.11C684.67 578.14 684.83 578.17 685.00 578.20C685.17 578.23 685.33 578.25 685.50 578.27C685.67 578.30 685.83 578.32 686.00 578.34C686.17 578.36 686.33 578.39 686.50 578.39C700.37 578.41 714.23 578.40 728.10 578.40C728.27 578.40 728.43 578.39 728.60 578.38C728.77 578.37 728.93 578.37 729.10 578.36C729.27 578.35 729.43 578.34 729.60 578.33C729.77 578.32 729.93 578.31 730.10 578.30C730.27 578.29 730.43 578.27 730.60 578.26C730.77 578.25 730.93 578.23 731.10 578.22C731.27 578.20 731.43 578.18 731.60 578.16C731.77 578.14 731.93 578.12 732.10 578.10C732.27 578.07 732.43 578.05 732.60 578.02C732.77 577.99 732.93 577.96 733.10 577.92C733.27 577.88 733.43 577.84 733.60 577.80C733.77 577.75 733.94 577.70 734.10 577.65C734.27 577.59 734.44 577.53 734.60 577.46C734.77 577.39 734.94 577.32 735.10 577.23C735.27 577.15 735.44 577.06 735.60 576.97C735.77 576.87 735.93 576.76 736.10 576.66C736.27 576.56 736.43 576.46 736.60 576.36C736.76 576.27 736.93 576.18 737.10 576.12C737.26 576.06 737.43 576.01 737.60 576.00C737.77 575.99 737.94 576.01 738.10 576.05C738.27 576.10 738.44 576.18 738.60 576.25C738.77 576.34 738.93 576.44 739.10 576.54C739.27 576.64 739.43 576.75 739.60 576.85C739.77 576.95 739.93 577.04 740.10 577.13C740.26 577.22 740.43 577.30 740.60 577.38C740.76 577.45 740.93 577.52 741.10 577.58C741.26 577.64 741.43 577.69 741.60 577.74C741.77 577.79 741.93 577.83 742.10 577.87C742.27 577.91 742.43 577.95 742.60 577.98C742.77 578.01 742.93 578.04 743.10 578.07C743.27 578.09 743.43 578.12 743.60 578.14C743.77 578.16 743.93 578.18 744.10 578.20C744.27 578.21 744.43 578.23 744.60 578.24C744.77 578.26 744.93 578.27 745.10 578.28C745.27 578.30 745.43 578.31 745.60 578.32C745.77 578.33 745.93 578.34 746.10 578.35C746.27 578.36 746.43 578.36 746.60 578.37C746.77 578.38 747.10 578.23 747.10 578.39C747.10 578.56 746.60 578.40 746.60 578.40C746.60 578.40 746.93 578.38 747.10 578.37C747.27 578.36 747.43 578.35 747.60 578.34C747.77 578.32 747.93 578.31 748.10 578.30C748.27 578.28 748.43 578.26 748.60 578.25C748.77 578.23 748.93 578.21 749.10 578.18C749.27 578.16 749.43 578.14 749.60 578.11C749.77 578.08 749.93 578.05 750.10 578.01C750.27 577.97 750.43 577.93 750.60 577.89C750.77 577.84 750.94 577.79 751.10 577.73C751.27 577.67 751.44 577.60 751.60 577.52C751.77 577.44 751.94 577.35 752.10 577.26C752.27 577.15 752.44 577.04 752.60 576.92C752.77 576.79 752.94 576.65 753.10 576.52C753.27 576.38 753.43 576.23 753.60 576.09C753.76 575.97 753.92 575.83 754.10 575.74C754.26 575.66 754.43 575.60 754.60 575.60C754.77 575.60 754.94 575.66 755.10 575.74C755.28 575.83 755.44 575.97 755.60 576.09C755.77 576.23 755.93 576.38 756.10 576.52C756.26 576.65 756.43 576.79 756.60 576.92C756.76 577.04 756.93 577.15 757.10 577.26C757.26 577.35 757.43 577.44 757.60 577.52C757.76 577.60 757.93 577.67 758.10 577.73C758.26 577.79 758.43 577.84 758.60 577.89C758.77 577.93 758.93 577.97 759.10 578.01C759.27 578.05 759.43 578.08 759.60 578.11C759.77 578.14 759.93 578.16 760.10 578.18C760.27 578.21 760.43 578.23 760.60 578.25C760.77 578.26 760.93 578.28 761.10 578.30C761.27 578.31 761.43 578.32 761.60 578.34C761.77 578.35 761.93 578.36 762.10 578.37C762.27 578.38 762.77 578.40 762.60 578.40C761.77 578.41 760.93 578.42 760.10 578.40C759.93 578.40 760.43 578.37 760.60 578.35C760.77 578.33 760.93 578.31 761.10 578.28C761.27 578.26 761.43 578.23 761.60 578.21C761.77 578.18 761.93 578.15 762.10 578.12C762.27 578.08 762.43 578.05 762.60 578.01C762.77 577.97 762.93 577.93 763.10 577.88C763.27 577.83 763.44 577.78 763.60 577.72C763.77 577.65 763.94 577.59 764.10 577.52C764.27 577.44 764.44 577.36 764.60 577.27C764.77 577.17 764.94 577.06 765.10 576.95C765.27 576.83 765.44 576.69 765.60 576.55C765.78 576.39 765.94 576.22 766.10 576.05C766.28 575.85 766.44 575.64 766.60 575.42C766.78 575.18 766.94 574.93 767.10 574.68C767.27 574.41 767.43 574.13 767.60 573.86C767.76 573.60 767.91 573.33 768.10 573.09C768.25 572.91 768.39 572.70 768.60 572.59C768.75 572.51 768.94 572.48 769.10 572.54C769.30 572.62 769.46 572.80 769.60 572.96C769.79 573.19 769.94 573.45 770.10 573.69C770.27 573.96 770.43 574.24 770.60 574.52C770.76 574.77 770.92 575.03 771.10 575.28C771.26 575.51 771.42 575.72 771.60 575.93C771.76 576.12 771.92 576.29 772.10 576.46C772.26 576.61 772.43 576.75 772.60 576.88C772.76 577.00 772.93 577.11 773.10 577.21C773.26 577.30 773.43 577.39 773.60 577.47C773.76 577.55 773.93 577.62 774.10 577.68C774.26 577.74 774.43 577.80 774.60 577.85C774.77 577.90 774.93 577.94 775.10 577.98C775.27 578.03 775.43 578.06 775.60 578.10C775.77 578.13 775.93 578.16 776.10 578.19C776.27 578.22 776.43 578.24 776.60 578.27C776.77 578.29 776.93 578.31 777.10 578.33C777.27 578.35 777.43 578.39 777.60 578.39C781.07 578.32 784.55 578.44 788.00 578.10C792.03 577.71 795.97 576.65 800.00 576.20C802.89 575.88 805.98 576.81 808.70 575.80C810.62 575.09 811.75 573.03 813.00 571.40C814.17 569.87 814.69 567.90 815.90 566.40C816.66 565.46 818.44 565.36 818.80 564.20C820.46 558.80 821.20 553.13 821.70 547.50C822.90 534.03 823.16 520.50 823.90 507.00C824.90 488.67 825.65 470.32 826.90 452.00C827.32 445.81 828.90 433.50 828.90 433.50C828.90 433.50 830.59 445.81 830.90 452.00C831.82 470.32 831.99 488.67 832.60 507.00C833.05 520.50 832.94 534.04 834.10 547.50C834.65 553.89 835.58 560.35 837.70 566.40C838.78 569.48 840.56 572.88 843.50 574.30C848.53 576.73 854.43 576.86 860.00 577.20C874.98 578.10 890.00 577.68 905.00 578.00C905.57 578.01 906.13 578.16 906.70 578.20C906.87 578.21 907.03 578.18 907.20 578.17C907.37 578.16 907.53 578.14 907.70 578.13C907.87 578.11 908.03 578.10 908.20 578.08C908.37 578.06 908.53 578.04 908.70 578.02C908.87 577.99 909.03 577.96 909.20 577.93C909.37 577.90 909.53 577.86 909.70 577.82C909.87 577.77 910.04 577.72 910.20 577.66C910.37 577.60 910.54 577.53 910.70 577.45C910.87 577.36 911.04 577.26 911.20 577.15C911.37 577.03 911.54 576.90 911.70 576.77C911.87 576.62 912.03 576.46 912.20 576.31C912.36 576.17 912.51 576.01 912.70 575.92C912.85 575.84 913.03 575.78 913.20 575.81C913.38 575.83 913.55 575.95 913.70 576.05C913.88 576.18 914.03 576.35 914.20 576.49C914.37 576.64 914.53 576.80 914.70 576.93C914.86 577.06 915.03 577.18 915.20 577.28C915.36 577.38 915.53 577.47 915.70 577.54C915.86 577.61 916.03 577.67 916.20 577.73C916.36 577.78 916.53 577.83 916.70 577.87C916.87 577.91 917.03 577.94 917.20 577.97C917.37 578.00 917.53 578.02 917.70 578.04C917.87 578.07 918.03 578.08 918.20 578.10C918.37 578.12 918.53 578.13 918.70 578.15C918.87 578.16 919.03 578.18 919.20 578.18C1004.13 578.20 1174.00 578.20 1174.00 578.20" fill="none" stroke="#0e0e96" stroke-width="3.0" stroke-linejoin="round" stroke-linecap="round"/><path d="M11.00 702.00C11.00 702.00 83.67 702.35 120.00 702.10C128.11 702.05 136.21 701.66 144.30 701.10C145.93 700.99 147.85 701.15 149.10 700.10C150.99 698.51 152.25 696.15 153.00 693.80C154.19 690.07 154.10 686.05 154.80 682.20C155.37 679.05 156.80 672.80 156.80 672.80C156.80 672.80 158.46 674.89 159.20 676.00C159.73 676.79 160.32 677.59 160.60 678.50C161.16 680.35 161.44 682.28 161.70 684.20C162.14 687.39 161.77 690.72 162.70 693.80C163.28 695.70 164.65 697.34 166.10 698.70C167.48 700.00 169.15 701.19 171.00 701.60C173.93 702.25 177.00 701.79 180.00 701.80C214.67 701.92 284.00 702.00 284.00 702.00M295.50 700.10C295.50 700.10 297.10 698.80 297.10 698.80C297.10 698.80 299.51 701.48 301.10 701.40C303.26 701.29 304.71 698.86 306.80 698.30C308.10 697.95 309.76 699.65 310.80 698.80C313.46 696.63 315.26 693.46 316.60 690.30C317.91 687.23 318.04 683.79 318.60 680.50C319.37 676.02 319.48 671.41 320.60 667.00C320.94 665.67 322.90 663.60 322.90 663.60C322.90 663.60 324.73 665.34 325.00 666.50C325.99 670.82 326.13 675.29 326.60 679.70C327.07 684.13 326.76 688.67 327.80 693.00C328.46 695.72 329.46 698.69 331.60 700.50C333.73 702.31 336.82 702.69 339.60 703.00C342.26 703.30 344.92 702.32 347.60 702.30C380.73 702.08 447.00 702.30 447.00 702.30M460.0 702.0L531.0 702.0M544.00 701.00C544.00 701.00 550.26 701.60 553.30 701.00C554.99 700.67 556.77 699.75 557.70 698.30C559.57 695.40 560.53 691.96 561.30 688.60C562.30 684.24 562.33 679.72 563.00 675.30C563.36 672.92 564.40 668.20 564.40 668.20C564.40 668.20 565.99 671.69 566.60 673.50C568.19 678.19 571.00 687.70 571.00 687.70C571.00 687.70 574.67 685.24 575.40 683.30C577.43 677.91 577.73 672.02 579.00 666.40C579.57 663.88 580.90 658.90 580.90 658.90C580.90 658.90 582.09 666.89 582.50 670.90C583.22 677.96 582.95 685.14 584.30 692.10C584.75 694.43 585.98 696.77 587.80 698.30C589.74 699.93 592.49 700.24 594.90 701.00C596.93 701.64 598.97 702.43 601.10 702.50C603.10 702.57 607.00 701.40 607.00 701.40M619.00 701.70C619.00 701.70 622.80 701.72 624.60 701.20C626.33 700.70 627.60 698.70 629.40 698.70C630.94 698.70 631.80 700.81 633.30 701.20C635.17 701.68 637.27 701.81 639.10 701.20C641.34 700.45 643.17 698.79 645.00 697.30C646.59 696.01 648.69 694.86 649.30 692.90C650.89 687.76 650.70 682.24 651.30 676.90C651.90 671.57 652.90 660.90 652.90 660.90C652.90 660.90 653.85 670.94 654.70 675.90C655.42 680.15 656.68 684.29 657.60 688.50C658.28 691.59 658.01 695.01 659.50 697.80C660.16 699.04 662.00 699.30 663.40 699.40C664.43 699.48 665.27 698.18 666.30 698.30C667.74 698.47 668.76 700.12 670.20 700.20C671.44 700.27 672.89 699.71 673.60 698.70C675.30 696.28 676.44 693.41 677.00 690.50C678.49 682.82 679.70 667.20 679.70 667.20C679.70 667.20 681.02 674.35 681.80 677.90C682.72 682.12 683.77 686.31 684.80 690.50C685.40 692.94 685.43 695.63 686.70 697.80C687.21 698.67 688.72 698.20 689.60 698.70C691.02 699.52 691.92 701.27 693.50 701.70C696.30 702.46 699.39 702.83 702.20 702.10C704.08 701.61 704.69 698.60 706.60 698.30C708.25 698.04 709.46 700.06 711.00 700.70C712.54 701.34 714.14 702.00 715.80 702.10C717.13 702.18 718.37 701.25 719.70 701.20C721.71 701.12 723.74 702.13 725.70 701.70C728.32 701.13 730.36 698.80 733.00 698.30C735.08 697.90 737.18 699.10 739.30 699.10C740.82 699.10 742.70 699.36 743.80 698.30C745.63 696.54 745.74 693.57 747.20 691.50C748.05 690.30 750.19 690.11 750.60 688.70C751.98 683.96 751.69 678.89 752.30 674.00C752.82 669.83 754.00 661.50 754.00 661.50C754.00 661.50 756.31 671.29 757.40 676.20C758.74 682.26 761.30 694.40 761.30 694.40C761.30 694.40 765.45 693.70 766.40 692.10C768.18 689.10 768.04 685.32 768.70 681.90C769.57 677.39 771.00 668.30 771.00 668.30C771.00 668.30 772.46 677.37 773.20 681.90C773.76 685.30 773.43 688.98 774.90 692.10C776.22 694.90 778.69 697.10 781.20 698.90C782.79 700.03 784.97 701.27 786.80 700.60C789.68 699.55 791.14 696.23 793.60 694.40C794.97 693.38 797.61 693.71 798.20 692.10C799.89 687.47 799.22 682.29 799.80 677.40C800.25 673.63 801.30 666.10 801.30 666.10C801.30 666.10 803.00 676.72 804.40 681.90C805.35 685.41 808.30 692.10 808.30 692.10C808.30 692.10 811.20 691.57 811.70 690.40C813.61 685.92 814.36 681.01 815.10 676.20C816.26 668.72 815.89 661.02 817.40 653.60C817.55 652.85 819.31 652.94 819.70 653.60C820.88 655.61 821.40 660.40 821.40 660.40C821.40 660.40 822.69 648.35 823.10 642.30C823.99 629.08 824.57 615.83 825.30 602.60C826.14 587.40 827.80 557.00 827.80 557.00C827.80 557.00 829.48 578.99 830.00 590.00C830.55 601.76 830.71 613.53 831.00 625.30C831.31 638.13 831.11 650.98 831.80 663.80C832.25 672.13 832.58 680.56 834.40 688.70C834.99 691.35 837.03 693.52 838.90 695.50C840.49 697.19 842.43 698.67 844.60 699.50C846.73 700.32 849.14 700.01 851.40 700.30C854.27 700.67 857.11 701.41 860.00 701.50C869.66 701.81 879.33 701.47 889.00 701.50C889.14 701.50 888.60 701.60 888.60 701.60C888.60 701.60 888.93 701.58 889.10 701.57C889.27 701.56 889.43 701.54 889.60 701.53C889.77 701.51 889.93 701.50 890.10 701.48C890.27 701.46 890.43 701.44 890.60 701.42C890.77 701.39 890.93 701.36 891.10 701.33C891.27 701.30 891.43 701.26 891.60 701.22C891.77 701.17 891.94 701.12 892.10 701.06C892.27 701.00 892.44 700.93 892.60 700.85C892.77 700.76 892.94 700.66 893.10 700.55C893.27 700.43 893.44 700.30 893.60 700.17C893.77 700.02 893.93 699.86 894.10 699.71C894.26 699.57 894.41 699.41 894.60 699.32C894.75 699.24 894.93 699.18 895.10 699.21C895.28 699.23 895.45 699.35 895.60 699.45C895.78 699.58 895.93 699.75 896.10 699.89C896.27 700.04 896.43 700.20 896.60 700.33C896.76 700.46 896.93 700.58 897.10 700.68C897.26 700.78 897.43 700.87 897.60 700.94C897.76 701.01 897.93 701.07 898.10 701.13C898.26 701.18 898.43 701.23 898.60 701.27C898.77 701.31 898.93 701.34 899.10 701.37C899.27 701.40 899.43 701.42 899.60 701.44C899.77 701.47 899.93 701.48 900.10 701.50C900.27 701.52 900.43 701.53 900.60 701.55C900.77 701.56 900.93 701.58 901.10 701.58C910.47 701.63 919.83 701.67 929.20 701.70C929.37 701.70 929.53 701.68 929.70 701.67C929.87 701.66 930.03 701.65 930.20 701.64C930.37 701.63 930.53 701.61 930.70 701.59C930.87 701.58 931.03 701.56 931.20 701.54C931.37 701.52 931.53 701.49 931.70 701.46C931.87 701.44 932.03 701.40 932.20 701.36C932.37 701.33 932.54 701.28 932.70 701.23C932.87 701.17 933.04 701.11 933.20 701.04C933.37 700.97 933.54 700.88 933.70 700.78C933.87 700.68 934.04 700.56 934.20 700.44C934.37 700.32 934.53 700.17 934.70 700.05C934.86 699.93 935.02 699.79 935.20 699.70C935.36 699.64 935.53 699.59 935.70 699.61C935.88 699.63 936.04 699.73 936.20 699.82C936.38 699.93 936.53 700.08 936.70 700.21C936.87 700.34 937.03 700.47 937.20 700.59C937.36 700.70 937.53 700.81 937.70 700.90C937.86 700.98 938.03 701.06 938.20 701.12C938.36 701.19 938.53 701.24 938.70 701.29C938.86 701.34 939.03 701.37 939.20 701.41C939.37 701.44 939.53 701.47 939.70 701.50C939.87 701.52 940.03 701.54 940.20 701.56C940.37 701.58 940.53 701.60 940.70 701.61C940.87 701.63 941.03 701.64 941.20 701.65C941.37 701.66 941.53 701.68 941.70 701.68C942.97 701.70 944.23 701.70 945.50 701.70C945.67 701.70 945.83 701.68 946.00 701.67C946.17 701.66 946.33 701.65 946.50 701.64C946.67 701.63 946.83 701.61 947.00 701.59C947.17 701.58 947.33 701.56 947.50 701.54C947.67 701.52 947.83 701.49 948.00 701.46C948.17 701.44 948.33 701.40 948.50 701.36C948.67 701.33 948.84 701.28 949.00 701.23C949.17 701.17 949.34 701.11 949.50 701.04C949.67 700.97 949.84 700.88 950.00 700.78C950.17 700.68 950.34 700.56 950.50 700.44C950.67 700.32 950.83 700.17 951.00 700.05C951.16 699.93 951.32 699.79 951.50 699.70C951.66 699.64 951.83 699.59 952.00 699.61C952.18 699.63 952.34 699.73 952.50 699.82C952.68 699.93 952.83 700.08 953.00 700.21C953.17 700.34 953.33 700.47 953.50 700.59C953.66 700.70 953.83 700.81 954.00 700.90C954.16 700.98 954.33 701.06 954.50 701.12C954.66 701.19 954.83 701.24 955.00 701.29C955.16 701.34 955.33 701.37 955.50 701.41C955.67 701.44 955.83 701.47 956.00 701.50C956.17 701.52 956.33 701.54 956.50 701.56C956.67 701.58 956.83 701.60 957.00 701.61C957.17 701.63 957.33 701.64 957.50 701.65C957.67 701.66 957.83 701.68 958.00 701.68C964.33 701.70 970.77 702.83 977.00 701.70C978.90 701.35 979.46 698.67 981.00 697.50C981.79 696.90 982.81 696.41 983.80 696.50C984.83 696.59 985.48 698.11 986.50 698.00C987.69 697.87 989.40 695.90 989.40 695.90C989.40 695.90 991.07 698.02 992.00 699.00C992.94 699.99 993.63 701.78 995.00 701.80C1054.66 702.72 1174.00 701.80 1174.00 701.80" fill="none" stroke="#068888" stroke-opacity="0.28" stroke-width="4.8" stroke-linejoin="round" stroke-linecap="round"/><path d="M11.00 702.00C11.00 702.00 83.67 702.35 120.00 702.10C128.11 702.05 136.21 701.66 144.30 701.10C145.93 700.99 147.85 701.15 149.10 700.10C150.99 698.51 152.25 696.15 153.00 693.80C154.19 690.07 154.10 686.05 154.80 682.20C155.37 679.05 156.80 672.80 156.80 672.80C156.80 672.80 158.46 674.89 159.20 676.00C159.73 676.79 160.32 677.59 160.60 678.50C161.16 680.35 161.44 682.28 161.70 684.20C162.14 687.39 161.77 690.72 162.70 693.80C163.28 695.70 164.65 697.34 166.10 698.70C167.48 700.00 169.15 701.19 171.00 701.60C173.93 702.25 177.00 701.79 180.00 701.80C214.67 701.92 284.00 702.00 284.00 702.00M295.50 700.10C295.50 700.10 297.10 698.80 297.10 698.80C297.10 698.80 299.51 701.48 301.10 701.40C303.26 701.29 304.71 698.86 306.80 698.30C308.10 697.95 309.76 699.65 310.80 698.80C313.46 696.63 315.26 693.46 316.60 690.30C317.91 687.23 318.04 683.79 318.60 680.50C319.37 676.02 319.48 671.41 320.60 667.00C320.94 665.67 322.90 663.60 322.90 663.60C322.90 663.60 324.73 665.34 325.00 666.50C325.99 670.82 326.13 675.29 326.60 679.70C327.07 684.13 326.76 688.67 327.80 693.00C328.46 695.72 329.46 698.69 331.60 700.50C333.73 702.31 336.82 702.69 339.60 703.00C342.26 703.30 344.92 702.32 347.60 702.30C380.73 702.08 447.00 702.30 447.00 702.30M460.0 702.0L531.0 702.0M544.00 701.00C544.00 701.00 550.26 701.60 553.30 701.00C554.99 700.67 556.77 699.75 557.70 698.30C559.57 695.40 560.53 691.96 561.30 688.60C562.30 684.24 562.33 679.72 563.00 675.30C563.36 672.92 564.40 668.20 564.40 668.20C564.40 668.20 565.99 671.69 566.60 673.50C568.19 678.19 571.00 687.70 571.00 687.70C571.00 687.70 574.67 685.24 575.40 683.30C577.43 677.91 577.73 672.02 579.00 666.40C579.57 663.88 580.90 658.90 580.90 658.90C580.90 658.90 582.09 666.89 582.50 670.90C583.22 677.96 582.95 685.14 584.30 692.10C584.75 694.43 585.98 696.77 587.80 698.30C589.74 699.93 592.49 700.24 594.90 701.00C596.93 701.64 598.97 702.43 601.10 702.50C603.10 702.57 607.00 701.40 607.00 701.40M619.00 701.70C619.00 701.70 622.80 701.72 624.60 701.20C626.33 700.70 627.60 698.70 629.40 698.70C630.94 698.70 631.80 700.81 633.30 701.20C635.17 701.68 637.27 701.81 639.10 701.20C641.34 700.45 643.17 698.79 645.00 697.30C646.59 696.01 648.69 694.86 649.30 692.90C650.89 687.76 650.70 682.24 651.30 676.90C651.90 671.57 652.90 660.90 652.90 660.90C652.90 660.90 653.85 670.94 654.70 675.90C655.42 680.15 656.68 684.29 657.60 688.50C658.28 691.59 658.01 695.01 659.50 697.80C660.16 699.04 662.00 699.30 663.40 699.40C664.43 699.48 665.27 698.18 666.30 698.30C667.74 698.47 668.76 700.12 670.20 700.20C671.44 700.27 672.89 699.71 673.60 698.70C675.30 696.28 676.44 693.41 677.00 690.50C678.49 682.82 679.70 667.20 679.70 667.20C679.70 667.20 681.02 674.35 681.80 677.90C682.72 682.12 683.77 686.31 684.80 690.50C685.40 692.94 685.43 695.63 686.70 697.80C687.21 698.67 688.72 698.20 689.60 698.70C691.02 699.52 691.92 701.27 693.50 701.70C696.30 702.46 699.39 702.83 702.20 702.10C704.08 701.61 704.69 698.60 706.60 698.30C708.25 698.04 709.46 700.06 711.00 700.70C712.54 701.34 714.14 702.00 715.80 702.10C717.13 702.18 718.37 701.25 719.70 701.20C721.71 701.12 723.74 702.13 725.70 701.70C728.32 701.13 730.36 698.80 733.00 698.30C735.08 697.90 737.18 699.10 739.30 699.10C740.82 699.10 742.70 699.36 743.80 698.30C745.63 696.54 745.74 693.57 747.20 691.50C748.05 690.30 750.19 690.11 750.60 688.70C751.98 683.96 751.69 678.89 752.30 674.00C752.82 669.83 754.00 661.50 754.00 661.50C754.00 661.50 756.31 671.29 757.40 676.20C758.74 682.26 761.30 694.40 761.30 694.40C761.30 694.40 765.45 693.70 766.40 692.10C768.18 689.10 768.04 685.32 768.70 681.90C769.57 677.39 771.00 668.30 771.00 668.30C771.00 668.30 772.46 677.37 773.20 681.90C773.76 685.30 773.43 688.98 774.90 692.10C776.22 694.90 778.69 697.10 781.20 698.90C782.79 700.03 784.97 701.27 786.80 700.60C789.68 699.55 791.14 696.23 793.60 694.40C794.97 693.38 797.61 693.71 798.20 692.10C799.89 687.47 799.22 682.29 799.80 677.40C800.25 673.63 801.30 666.10 801.30 666.10C801.30 666.10 803.00 676.72 804.40 681.90C805.35 685.41 808.30 692.10 808.30 692.10C808.30 692.10 811.20 691.57 811.70 690.40C813.61 685.92 814.36 681.01 815.10 676.20C816.26 668.72 815.89 661.02 817.40 653.60C817.55 652.85 819.31 652.94 819.70 653.60C820.88 655.61 821.40 660.40 821.40 660.40C821.40 660.40 822.69 648.35 823.10 642.30C823.99 629.08 824.57 615.83 825.30 602.60C826.14 587.40 827.80 557.00 827.80 557.00C827.80 557.00 829.48 578.99 830.00 590.00C830.55 601.76 830.71 613.53 831.00 625.30C831.31 638.13 831.11 650.98 831.80 663.80C832.25 672.13 832.58 680.56 834.40 688.70C834.99 691.35 837.03 693.52 838.90 695.50C840.49 697.19 842.43 698.67 844.60 699.50C846.73 700.32 849.14 700.01 851.40 700.30C854.27 700.67 857.11 701.41 860.00 701.50C869.66 701.81 879.33 701.47 889.00 701.50C889.14 701.50 888.60 701.60 888.60 701.60C888.60 701.60 888.93 701.58 889.10 701.57C889.27 701.56 889.43 701.54 889.60 701.53C889.77 701.51 889.93 701.50 890.10 701.48C890.27 701.46 890.43 701.44 890.60 701.42C890.77 701.39 890.93 701.36 891.10 701.33C891.27 701.30 891.43 701.26 891.60 701.22C891.77 701.17 891.94 701.12 892.10 701.06C892.27 701.00 892.44 700.93 892.60 700.85C892.77 700.76 892.94 700.66 893.10 700.55C893.27 700.43 893.44 700.30 893.60 700.17C893.77 700.02 893.93 699.86 894.10 699.71C894.26 699.57 894.41 699.41 894.60 699.32C894.75 699.24 894.93 699.18 895.10 699.21C895.28 699.23 895.45 699.35 895.60 699.45C895.78 699.58 895.93 699.75 896.10 699.89C896.27 700.04 896.43 700.20 896.60 700.33C896.76 700.46 896.93 700.58 897.10 700.68C897.26 700.78 897.43 700.87 897.60 700.94C897.76 701.01 897.93 701.07 898.10 701.13C898.26 701.18 898.43 701.23 898.60 701.27C898.77 701.31 898.93 701.34 899.10 701.37C899.27 701.40 899.43 701.42 899.60 701.44C899.77 701.47 899.93 701.48 900.10 701.50C900.27 701.52 900.43 701.53 900.60 701.55C900.77 701.56 900.93 701.58 901.10 701.58C910.47 701.63 919.83 701.67 929.20 701.70C929.37 701.70 929.53 701.68 929.70 701.67C929.87 701.66 930.03 701.65 930.20 701.64C930.37 701.63 930.53 701.61 930.70 701.59C930.87 701.58 931.03 701.56 931.20 701.54C931.37 701.52 931.53 701.49 931.70 701.46C931.87 701.44 932.03 701.40 932.20 701.36C932.37 701.33 932.54 701.28 932.70 701.23C932.87 701.17 933.04 701.11 933.20 701.04C933.37 700.97 933.54 700.88 933.70 700.78C933.87 700.68 934.04 700.56 934.20 700.44C934.37 700.32 934.53 700.17 934.70 700.05C934.86 699.93 935.02 699.79 935.20 699.70C935.36 699.64 935.53 699.59 935.70 699.61C935.88 699.63 936.04 699.73 936.20 699.82C936.38 699.93 936.53 700.08 936.70 700.21C936.87 700.34 937.03 700.47 937.20 700.59C937.36 700.70 937.53 700.81 937.70 700.90C937.86 700.98 938.03 701.06 938.20 701.12C938.36 701.19 938.53 701.24 938.70 701.29C938.86 701.34 939.03 701.37 939.20 701.41C939.37 701.44 939.53 701.47 939.70 701.50C939.87 701.52 940.03 701.54 940.20 701.56C940.37 701.58 940.53 701.60 940.70 701.61C940.87 701.63 941.03 701.64 941.20 701.65C941.37 701.66 941.53 701.68 941.70 701.68C942.97 701.70 944.23 701.70 945.50 701.70C945.67 701.70 945.83 701.68 946.00 701.67C946.17 701.66 946.33 701.65 946.50 701.64C946.67 701.63 946.83 701.61 947.00 701.59C947.17 701.58 947.33 701.56 947.50 701.54C947.67 701.52 947.83 701.49 948.00 701.46C948.17 701.44 948.33 701.40 948.50 701.36C948.67 701.33 948.84 701.28 949.00 701.23C949.17 701.17 949.34 701.11 949.50 701.04C949.67 700.97 949.84 700.88 950.00 700.78C950.17 700.68 950.34 700.56 950.50 700.44C950.67 700.32 950.83 700.17 951.00 700.05C951.16 699.93 951.32 699.79 951.50 699.70C951.66 699.64 951.83 699.59 952.00 699.61C952.18 699.63 952.34 699.73 952.50 699.82C952.68 699.93 952.83 700.08 953.00 700.21C953.17 700.34 953.33 700.47 953.50 700.59C953.66 700.70 953.83 700.81 954.00 700.90C954.16 700.98 954.33 701.06 954.50 701.12C954.66 701.19 954.83 701.24 955.00 701.29C955.16 701.34 955.33 701.37 955.50 701.41C955.67 701.44 955.83 701.47 956.00 701.50C956.17 701.52 956.33 701.54 956.50 701.56C956.67 701.58 956.83 701.60 957.00 701.61C957.17 701.63 957.33 701.64 957.50 701.65C957.67 701.66 957.83 701.68 958.00 701.68C964.33 701.70 970.77 702.83 977.00 701.70C978.90 701.35 979.46 698.67 981.00 697.50C981.79 696.90 982.81 696.41 983.80 696.50C984.83 696.59 985.48 698.11 986.50 698.00C987.69 697.87 989.40 695.90 989.40 695.90C989.40 695.90 991.07 698.02 992.00 699.00C992.94 699.99 993.63 701.78 995.00 701.80C1054.66 702.72 1174.00 701.80 1174.00 701.80" fill="none" stroke="#068888" stroke-width="3.0" stroke-linejoin="round" stroke-linecap="round"/><path d="M11.00 826.50C11.00 826.50 96.60 826.51 139.40 826.50C141.13 826.50 135.93 826.49 134.20 826.47C134.03 826.47 134.53 826.46 134.70 826.45C134.87 826.44 135.03 826.43 135.20 826.42C135.37 826.40 135.53 826.39 135.70 826.38C135.87 826.37 136.03 826.35 136.20 826.34C136.37 826.33 136.53 826.31 136.70 826.29C136.87 826.28 137.03 826.26 137.20 826.24C137.37 826.22 137.53 826.21 137.70 826.18C137.87 826.16 138.03 826.14 138.20 826.12C138.37 826.09 138.53 826.07 138.70 826.04C138.87 826.01 139.03 825.98 139.20 825.95C139.37 825.92 139.53 825.88 139.70 825.85C139.87 825.81 140.03 825.77 140.20 825.72C140.37 825.68 140.53 825.63 140.70 825.58C140.87 825.53 141.03 825.47 141.20 825.41C141.37 825.35 141.54 825.29 141.70 825.22C141.87 825.14 142.04 825.07 142.20 824.98C142.37 824.90 142.54 824.81 142.70 824.71C142.87 824.61 143.04 824.51 143.20 824.40C143.37 824.29 143.54 824.17 143.70 824.05C143.87 823.92 144.03 823.79 144.20 823.67C144.37 823.54 144.53 823.40 144.70 823.27C144.86 823.15 145.03 823.02 145.20 822.90C145.36 822.79 145.52 822.69 145.70 822.60C145.86 822.53 146.03 822.46 146.20 822.43C146.36 822.40 146.53 822.39 146.70 822.41C146.87 822.44 147.04 822.49 147.20 822.56C147.38 822.63 147.54 822.73 147.70 822.84C147.87 822.95 148.04 823.07 148.20 823.19C148.37 823.32 148.53 823.46 148.70 823.59C148.87 823.72 149.03 823.85 149.20 823.97C149.36 824.10 149.53 824.22 149.70 824.33C149.86 824.44 150.03 824.55 150.20 824.65C150.36 824.75 150.53 824.84 150.70 824.93C150.86 825.02 151.03 825.10 151.20 825.17C151.36 825.24 151.53 825.31 151.70 825.38C151.87 825.44 152.03 825.50 152.20 825.55C152.37 825.60 152.53 825.65 152.70 825.70C152.87 825.74 153.03 825.78 153.20 825.82C153.37 825.86 153.53 825.90 153.70 825.93C153.87 825.96 154.03 825.99 154.20 826.02C154.37 826.05 154.53 826.08 154.70 826.10C154.87 826.13 155.03 826.15 155.20 826.17C155.37 826.19 155.53 826.21 155.70 826.23C155.87 826.25 156.03 826.27 156.20 826.28C156.37 826.30 156.53 826.32 156.70 826.33C156.87 826.35 157.03 826.36 157.20 826.37C157.37 826.38 157.53 826.40 157.70 826.41C157.87 826.42 158.03 826.43 158.20 826.44C158.37 826.45 158.87 826.47 158.70 826.47C157.47 826.49 153.77 826.50 155.00 826.50C198.00 826.51 284.00 826.50 284.00 826.50M295.5 826.5L447.0 826.5M460.0 826.5L531.0 826.5M544.00 826.50C544.00 826.50 545.27 826.51 545.90 826.50C546.07 826.50 546.23 826.48 546.40 826.47C546.57 826.46 546.73 826.44 546.90 826.43C547.07 826.42 547.23 826.41 547.40 826.39C547.57 826.38 547.73 826.36 547.90 826.34C548.07 826.33 548.23 826.31 548.40 826.29C548.57 826.27 548.73 826.25 548.90 826.23C549.07 826.21 549.23 826.19 549.40 826.16C549.57 826.14 549.73 826.11 549.90 826.08C550.07 826.05 550.23 826.02 550.40 825.99C550.57 825.96 550.73 825.92 550.90 825.88C551.07 825.84 551.23 825.80 551.40 825.75C551.57 825.71 551.73 825.66 551.90 825.60C552.07 825.55 552.24 825.49 552.40 825.43C552.57 825.36 552.74 825.29 552.90 825.21C553.07 825.14 553.24 825.05 553.40 824.96C553.57 824.87 553.74 824.77 553.90 824.67C554.07 824.56 554.24 824.44 554.40 824.32C554.57 824.19 554.74 824.05 554.90 823.91C555.07 823.76 555.24 823.61 555.40 823.45C555.57 823.29 555.73 823.12 555.90 822.96C556.07 822.79 556.23 822.62 556.40 822.46C556.56 822.31 556.72 822.15 556.90 822.02C557.06 821.90 557.22 821.79 557.40 821.71C557.56 821.65 557.73 821.60 557.90 821.60C558.07 821.60 558.24 821.65 558.40 821.71C558.58 821.79 558.74 821.90 558.90 822.02C559.08 822.15 559.24 822.31 559.40 822.46C559.57 822.62 559.73 822.79 559.90 822.96C560.07 823.12 560.23 823.29 560.40 823.45C560.56 823.61 560.73 823.76 560.90 823.91C561.06 824.05 561.23 824.19 561.40 824.32C561.56 824.44 561.73 824.56 561.90 824.67C562.06 824.77 562.23 824.87 562.40 824.96C562.56 825.05 562.73 825.14 562.90 825.21C563.06 825.29 563.23 825.36 563.40 825.43C563.56 825.49 563.73 825.55 563.90 825.60C564.07 825.66 564.23 825.71 564.40 825.75C564.57 825.80 564.73 825.84 564.90 825.88C565.07 825.92 565.23 825.96 565.40 825.99C565.57 826.02 565.73 826.05 565.90 826.08C566.07 826.11 566.23 826.14 566.40 826.16C566.57 826.19 566.73 826.21 566.90 826.23C567.07 826.25 567.23 826.27 567.40 826.29C567.57 826.31 567.73 826.33 567.90 826.34C568.07 826.36 568.23 826.38 568.40 826.39C568.57 826.41 568.73 826.42 568.90 826.43C569.07 826.44 569.23 826.46 569.40 826.47C569.57 826.48 569.73 826.50 569.90 826.50C582.27 826.51 607.00 826.50 607.00 826.50M619.00 826.50C619.00 826.50 628.47 826.51 633.20 826.50C633.37 826.50 633.53 826.48 633.70 826.47C633.87 826.45 634.03 826.44 634.20 826.43C634.37 826.42 634.53 826.40 634.70 826.39C634.87 826.37 635.03 826.35 635.20 826.34C635.37 826.32 635.53 826.30 635.70 826.28C635.87 826.26 636.03 826.24 636.20 826.22C636.37 826.20 636.53 826.17 636.70 826.15C636.87 826.12 637.03 826.09 637.20 826.06C637.37 826.03 637.53 826.00 637.70 825.97C637.87 825.93 638.03 825.90 638.20 825.85C638.37 825.81 638.53 825.77 638.70 825.72C638.87 825.67 639.03 825.62 639.20 825.57C639.37 825.51 639.54 825.45 639.70 825.38C639.87 825.31 640.04 825.24 640.20 825.16C640.37 825.08 640.54 824.99 640.70 824.90C640.87 824.80 641.04 824.70 641.20 824.59C641.37 824.48 641.54 824.36 641.70 824.23C641.87 824.09 642.04 823.95 642.20 823.81C642.37 823.65 642.54 823.49 642.70 823.33C642.87 823.16 643.03 822.98 643.20 822.81C643.37 822.64 643.53 822.46 643.70 822.29C643.86 822.14 644.02 821.98 644.20 821.84C644.36 821.72 644.52 821.60 644.70 821.52C644.86 821.45 645.03 821.40 645.20 821.40C645.37 821.40 645.54 821.45 645.70 821.52C645.88 821.60 646.04 821.72 646.20 821.84C646.38 821.98 646.54 822.14 646.70 822.29C646.87 822.46 647.03 822.64 647.20 822.81C647.37 822.98 647.53 823.16 647.70 823.33C647.86 823.49 648.03 823.65 648.20 823.81C648.36 823.95 648.53 824.09 648.70 824.23C648.86 824.36 649.03 824.48 649.20 824.59C649.36 824.70 649.53 824.80 649.70 824.90C649.86 824.99 650.03 825.08 650.20 825.16C650.36 825.24 650.53 825.31 650.70 825.38C650.86 825.45 651.03 825.51 651.20 825.57C651.37 825.62 651.53 825.67 651.70 825.72C651.87 825.77 652.03 825.81 652.20 825.85C652.37 825.90 652.53 825.93 652.70 825.97C652.87 826.00 653.03 826.03 653.20 826.06C653.37 826.09 653.53 826.12 653.70 826.15C653.87 826.17 654.03 826.20 654.20 826.22C654.37 826.24 654.53 826.26 654.70 826.28C654.87 826.30 655.03 826.32 655.20 826.34C655.37 826.35 655.53 826.37 655.70 826.39C655.87 826.40 656.03 826.42 656.20 826.43C656.37 826.44 656.53 826.45 656.70 826.47C656.87 826.48 657.03 826.50 657.20 826.50C657.97 826.51 658.73 826.51 659.50 826.50C659.67 826.50 659.83 826.48 660.00 826.46C660.17 826.45 660.33 826.44 660.50 826.42C660.67 826.41 660.83 826.39 661.00 826.38C661.17 826.36 661.33 826.34 661.50 826.33C661.67 826.31 661.83 826.29 662.00 826.27C662.17 826.24 662.33 826.22 662.50 826.20C662.67 826.17 662.83 826.15 663.00 826.12C663.17 826.09 663.33 826.06 663.50 826.03C663.67 826.00 663.83 825.96 664.00 825.93C664.17 825.89 664.33 825.85 664.50 825.80C664.67 825.76 664.83 825.71 665.00 825.66C665.17 825.61 665.33 825.55 665.50 825.49C665.67 825.43 665.84 825.37 666.00 825.29C666.17 825.22 666.34 825.14 666.50 825.06C666.67 824.97 666.84 824.88 667.00 824.78C667.17 824.67 667.34 824.56 667.50 824.44C667.67 824.32 667.84 824.19 668.00 824.05C668.17 823.90 668.34 823.75 668.50 823.59C668.67 823.43 668.84 823.25 669.00 823.08C669.17 822.90 669.33 822.71 669.50 822.52C669.67 822.34 669.83 822.14 670.00 821.96C670.16 821.79 670.32 821.62 670.50 821.47C670.66 821.34 670.82 821.21 671.00 821.13C671.16 821.05 671.33 821.00 671.50 821.00C671.67 821.00 671.84 821.05 672.00 821.13C672.18 821.21 672.34 821.34 672.50 821.47C672.68 821.62 672.84 821.79 673.00 821.96C673.17 822.14 673.33 822.34 673.50 822.52C673.67 822.71 673.83 822.90 674.00 823.08C674.16 823.25 674.33 823.43 674.50 823.59C674.66 823.75 674.83 823.90 675.00 824.05C675.16 824.19 675.33 824.32 675.50 824.44C675.66 824.56 675.83 824.67 676.00 824.78C676.16 824.88 676.33 824.97 676.50 825.06C676.66 825.14 676.83 825.22 677.00 825.29C677.16 825.37 677.33 825.43 677.50 825.49C677.67 825.55 677.83 825.61 678.00 825.66C678.17 825.71 678.33 825.76 678.50 825.80C678.67 825.85 678.83 825.89 679.00 825.93C679.17 825.96 679.33 826.00 679.50 826.03C679.67 826.06 679.83 826.09 680.00 826.12C680.17 826.15 680.33 826.17 680.50 826.20C680.67 826.22 680.83 826.24 681.00 826.27C681.17 826.29 681.33 826.31 681.50 826.33C681.67 826.34 681.83 826.36 682.00 826.38C682.17 826.39 682.33 826.41 682.50 826.42C682.67 826.44 682.83 826.45 683.00 826.46C683.17 826.48 683.33 826.50 683.50 826.50C696.43 826.51 709.37 826.50 722.30 826.50C722.47 826.50 722.63 826.49 722.80 826.49C722.97 826.49 723.13 826.48 723.30 826.48C723.47 826.47 723.63 826.47 723.80 826.46C723.97 826.46 724.13 826.45 724.30 826.45C724.47 826.44 724.63 826.44 724.80 826.43C724.97 826.42 725.13 826.42 725.30 826.41C725.47 826.40 725.63 826.39 725.80 826.38C725.97 826.38 726.13 826.37 726.30 826.36C726.47 826.35 726.63 826.33 726.80 826.32C726.97 826.31 727.13 826.30 727.30 826.28C727.47 826.27 727.63 826.25 727.80 826.24C727.97 826.22 728.13 826.20 728.30 826.18C728.47 826.16 728.63 826.14 728.80 826.11C728.97 826.09 729.13 826.06 729.30 826.03C729.47 826.00 729.63 825.97 729.80 825.93C729.97 825.90 730.13 825.86 730.30 825.82C730.47 825.77 730.63 825.73 730.80 825.68C730.97 825.63 731.13 825.58 731.30 825.52C731.47 825.47 731.63 825.41 731.80 825.36C731.97 825.31 732.13 825.25 732.30 825.20C732.47 825.15 732.63 825.11 732.80 825.07C732.97 825.04 733.13 825.02 733.30 825.01C733.47 825.00 733.63 825.00 733.80 825.01C733.97 825.03 734.13 825.06 734.30 825.10C734.47 825.13 734.63 825.18 734.80 825.23C734.97 825.28 735.13 825.34 735.30 825.39C735.47 825.45 735.63 825.50 735.80 825.56C735.97 825.61 736.13 825.66 736.30 825.71C736.47 825.75 736.63 825.80 736.80 825.84C736.97 825.88 737.13 825.92 737.30 825.95C737.47 825.99 737.63 826.02 737.80 826.05C737.97 826.08 738.13 826.10 738.30 826.13C738.47 826.15 738.63 826.17 738.80 826.19C738.97 826.21 739.13 826.23 739.30 826.25C739.47 826.26 739.63 826.28 739.80 826.29C739.97 826.31 740.13 826.32 740.30 826.33C740.47 826.34 740.63 826.35 740.80 826.36C740.97 826.37 741.13 826.38 741.30 826.39C741.47 826.40 741.63 826.41 741.80 826.41C741.97 826.42 742.13 826.43 742.30 826.43C742.47 826.44 742.63 826.45 742.80 826.45C742.97 826.46 743.13 826.46 743.30 826.47C743.47 826.47 743.63 826.48 743.80 826.48C743.97 826.48 744.13 826.49 744.30 826.49C746.53 826.50 748.77 826.51 751.00 826.50C751.17 826.50 751.33 826.48 751.50 826.46C751.67 826.45 751.83 826.44 752.00 826.42C752.17 826.41 752.33 826.39 752.50 826.38C752.67 826.36 752.83 826.34 753.00 826.33C753.17 826.31 753.33 826.29 753.50 826.27C753.67 826.24 753.83 826.22 754.00 826.20C754.17 826.17 754.33 826.15 754.50 826.12C754.67 826.09 754.83 826.06 755.00 826.03C755.17 826.00 755.33 825.96 755.50 825.93C755.67 825.89 755.83 825.85 756.00 825.80C756.17 825.76 756.33 825.71 756.50 825.66C756.67 825.61 756.83 825.55 757.00 825.49C757.17 825.43 757.34 825.37 757.50 825.29C757.67 825.22 757.84 825.14 758.00 825.06C758.17 824.97 758.34 824.88 758.50 824.78C758.67 824.67 758.84 824.56 759.00 824.44C759.17 824.32 759.34 824.19 759.50 824.05C759.67 823.90 759.84 823.75 760.00 823.59C760.17 823.43 760.34 823.25 760.50 823.08C760.67 822.90 760.83 822.71 761.00 822.52C761.17 822.34 761.33 822.14 761.50 821.96C761.66 821.79 761.82 821.62 762.00 821.47C762.16 821.34 762.32 821.21 762.50 821.13C762.66 821.05 762.83 821.00 763.00 821.00C763.17 821.00 763.34 821.05 763.50 821.13C763.68 821.21 763.84 821.34 764.00 821.47C764.18 821.62 764.34 821.79 764.50 821.96C764.67 822.14 764.83 822.34 765.00 822.52C765.17 822.71 765.33 822.90 765.50 823.08C765.66 823.25 765.83 823.43 766.00 823.59C766.16 823.75 766.33 823.90 766.50 824.05C766.66 824.19 766.83 824.32 767.00 824.44C767.16 824.56 767.33 824.67 767.50 824.78C767.66 824.88 767.83 824.97 768.00 825.06C768.16 825.14 768.33 825.22 768.50 825.29C768.66 825.37 768.83 825.43 769.00 825.49C769.17 825.55 769.33 825.61 769.50 825.66C769.67 825.71 769.83 825.76 770.00 825.80C770.17 825.85 770.33 825.89 770.50 825.93C770.67 825.96 770.83 826.00 771.00 826.03C771.17 826.06 771.33 826.09 771.50 826.12C771.67 826.15 771.83 826.17 772.00 826.20C772.17 826.22 772.33 826.24 772.50 826.27C772.67 826.29 772.83 826.31 773.00 826.33C773.17 826.34 773.33 826.36 773.50 826.38C773.67 826.39 773.83 826.41 774.00 826.42C774.17 826.44 774.33 826.45 774.50 826.46C774.67 826.48 774.83 826.50 775.00 826.50C778.67 826.42 782.35 826.51 786.00 826.20C789.03 825.94 792.03 825.42 795.00 824.80C797.60 824.25 800.43 824.09 802.70 822.70C804.91 821.34 806.06 818.74 807.90 816.90C809.30 815.50 811.62 814.83 812.40 813.00C814.30 808.54 815.07 803.62 815.60 798.80C817.01 785.98 817.40 773.07 818.20 760.20C819.13 745.17 819.94 730.13 820.80 715.10C821.44 703.90 822.70 681.50 822.70 681.50C822.70 681.50 823.87 703.91 824.60 715.10C825.57 730.14 826.67 745.17 827.80 760.20C828.61 770.94 829.19 781.70 830.40 792.40C831.13 798.88 831.79 805.44 833.60 811.70C834.62 815.22 835.74 819.37 838.80 821.40C843.47 824.50 849.41 825.43 855.00 825.90C869.95 827.15 885.00 826.27 900.00 826.50C900.07 826.50 900.13 826.59 900.20 826.60C900.37 826.62 900.53 826.59 900.70 826.58C900.87 826.57 901.03 826.56 901.20 826.55C901.37 826.54 901.53 826.53 901.70 826.52C901.87 826.51 902.03 826.49 902.20 826.48C902.37 826.46 902.53 826.44 902.70 826.42C902.87 826.40 903.03 826.37 903.20 826.34C903.37 826.31 903.53 826.28 903.70 826.24C903.87 826.20 904.04 826.15 904.20 826.10C904.37 826.04 904.54 825.98 904.70 825.90C904.87 825.82 905.04 825.74 905.20 825.64C905.37 825.55 905.53 825.44 905.70 825.34C905.86 825.25 906.02 825.14 906.20 825.08C906.36 825.03 906.53 824.99 906.70 825.01C906.87 825.02 907.04 825.10 907.20 825.17C907.38 825.25 907.53 825.37 907.70 825.46C907.87 825.56 908.03 825.66 908.20 825.75C908.36 825.84 908.53 825.92 908.70 825.99C908.86 826.05 909.03 826.11 909.20 826.16C909.36 826.21 909.53 826.25 909.70 826.29C909.87 826.32 910.03 826.35 910.20 826.38C910.37 826.40 910.53 826.43 910.70 826.44C910.87 826.46 911.03 826.48 911.20 826.50C911.37 826.51 911.53 826.52 911.70 826.53C911.87 826.55 912.03 826.56 912.20 826.56C912.37 826.57 912.53 826.59 912.70 826.59C999.80 826.67 1174.00 826.80 1174.00 826.80" fill="none" stroke="#009000" stroke-opacity="0.28" stroke-width="4.8" stroke-linejoin="round" stroke-linecap="round"/><path d="M11.00 826.50C11.00 826.50 96.60 826.51 139.40 826.50C141.13 826.50 135.93 826.49 134.20 826.47C134.03 826.47 134.53 826.46 134.70 826.45C134.87 826.44 135.03 826.43 135.20 826.42C135.37 826.40 135.53 826.39 135.70 826.38C135.87 826.37 136.03 826.35 136.20 826.34C136.37 826.33 136.53 826.31 136.70 826.29C136.87 826.28 137.03 826.26 137.20 826.24C137.37 826.22 137.53 826.21 137.70 826.18C137.87 826.16 138.03 826.14 138.20 826.12C138.37 826.09 138.53 826.07 138.70 826.04C138.87 826.01 139.03 825.98 139.20 825.95C139.37 825.92 139.53 825.88 139.70 825.85C139.87 825.81 140.03 825.77 140.20 825.72C140.37 825.68 140.53 825.63 140.70 825.58C140.87 825.53 141.03 825.47 141.20 825.41C141.37 825.35 141.54 825.29 141.70 825.22C141.87 825.14 142.04 825.07 142.20 824.98C142.37 824.90 142.54 824.81 142.70 824.71C142.87 824.61 143.04 824.51 143.20 824.40C143.37 824.29 143.54 824.17 143.70 824.05C143.87 823.92 144.03 823.79 144.20 823.67C144.37 823.54 144.53 823.40 144.70 823.27C144.86 823.15 145.03 823.02 145.20 822.90C145.36 822.79 145.52 822.69 145.70 822.60C145.86 822.53 146.03 822.46 146.20 822.43C146.36 822.40 146.53 822.39 146.70 822.41C146.87 822.44 147.04 822.49 147.20 822.56C147.38 822.63 147.54 822.73 147.70 822.84C147.87 822.95 148.04 823.07 148.20 823.19C148.37 823.32 148.53 823.46 148.70 823.59C148.87 823.72 149.03 823.85 149.20 823.97C149.36 824.10 149.53 824.22 149.70 824.33C149.86 824.44 150.03 824.55 150.20 824.65C150.36 824.75 150.53 824.84 150.70 824.93C150.86 825.02 151.03 825.10 151.20 825.17C151.36 825.24 151.53 825.31 151.70 825.38C151.87 825.44 152.03 825.50 152.20 825.55C152.37 825.60 152.53 825.65 152.70 825.70C152.87 825.74 153.03 825.78 153.20 825.82C153.37 825.86 153.53 825.90 153.70 825.93C153.87 825.96 154.03 825.99 154.20 826.02C154.37 826.05 154.53 826.08 154.70 826.10C154.87 826.13 155.03 826.15 155.20 826.17C155.37 826.19 155.53 826.21 155.70 826.23C155.87 826.25 156.03 826.27 156.20 826.28C156.37 826.30 156.53 826.32 156.70 826.33C156.87 826.35 157.03 826.36 157.20 826.37C157.37 826.38 157.53 826.40 157.70 826.41C157.87 826.42 158.03 826.43 158.20 826.44C158.37 826.45 158.87 826.47 158.70 826.47C157.47 826.49 153.77 826.50 155.00 826.50C198.00 826.51 284.00 826.50 284.00 826.50M295.5 826.5L447.0 826.5M460.0 826.5L531.0 826.5M544.00 826.50C544.00 826.50 545.27 826.51 545.90 826.50C546.07 826.50 546.23 826.48 546.40 826.47C546.57 826.46 546.73 826.44 546.90 826.43C547.07 826.42 547.23 826.41 547.40 826.39C547.57 826.38 547.73 826.36 547.90 826.34C548.07 826.33 548.23 826.31 548.40 826.29C548.57 826.27 548.73 826.25 548.90 826.23C549.07 826.21 549.23 826.19 549.40 826.16C549.57 826.14 549.73 826.11 549.90 826.08C550.07 826.05 550.23 826.02 550.40 825.99C550.57 825.96 550.73 825.92 550.90 825.88C551.07 825.84 551.23 825.80 551.40 825.75C551.57 825.71 551.73 825.66 551.90 825.60C552.07 825.55 552.24 825.49 552.40 825.43C552.57 825.36 552.74 825.29 552.90 825.21C553.07 825.14 553.24 825.05 553.40 824.96C553.57 824.87 553.74 824.77 553.90 824.67C554.07 824.56 554.24 824.44 554.40 824.32C554.57 824.19 554.74 824.05 554.90 823.91C555.07 823.76 555.24 823.61 555.40 823.45C555.57 823.29 555.73 823.12 555.90 822.96C556.07 822.79 556.23 822.62 556.40 822.46C556.56 822.31 556.72 822.15 556.90 822.02C557.06 821.90 557.22 821.79 557.40 821.71C557.56 821.65 557.73 821.60 557.90 821.60C558.07 821.60 558.24 821.65 558.40 821.71C558.58 821.79 558.74 821.90 558.90 822.02C559.08 822.15 559.24 822.31 559.40 822.46C559.57 822.62 559.73 822.79 559.90 822.96C560.07 823.12 560.23 823.29 560.40 823.45C560.56 823.61 560.73 823.76 560.90 823.91C561.06 824.05 561.23 824.19 561.40 824.32C561.56 824.44 561.73 824.56 561.90 824.67C562.06 824.77 562.23 824.87 562.40 824.96C562.56 825.05 562.73 825.14 562.90 825.21C563.06 825.29 563.23 825.36 563.40 825.43C563.56 825.49 563.73 825.55 563.90 825.60C564.07 825.66 564.23 825.71 564.40 825.75C564.57 825.80 564.73 825.84 564.90 825.88C565.07 825.92 565.23 825.96 565.40 825.99C565.57 826.02 565.73 826.05 565.90 826.08C566.07 826.11 566.23 826.14 566.40 826.16C566.57 826.19 566.73 826.21 566.90 826.23C567.07 826.25 567.23 826.27 567.40 826.29C567.57 826.31 567.73 826.33 567.90 826.34C568.07 826.36 568.23 826.38 568.40 826.39C568.57 826.41 568.73 826.42 568.90 826.43C569.07 826.44 569.23 826.46 569.40 826.47C569.57 826.48 569.73 826.50 569.90 826.50C582.27 826.51 607.00 826.50 607.00 826.50M619.00 826.50C619.00 826.50 628.47 826.51 633.20 826.50C633.37 826.50 633.53 826.48 633.70 826.47C633.87 826.45 634.03 826.44 634.20 826.43C634.37 826.42 634.53 826.40 634.70 826.39C634.87 826.37 635.03 826.35 635.20 826.34C635.37 826.32 635.53 826.30 635.70 826.28C635.87 826.26 636.03 826.24 636.20 826.22C636.37 826.20 636.53 826.17 636.70 826.15C636.87 826.12 637.03 826.09 637.20 826.06C637.37 826.03 637.53 826.00 637.70 825.97C637.87 825.93 638.03 825.90 638.20 825.85C638.37 825.81 638.53 825.77 638.70 825.72C638.87 825.67 639.03 825.62 639.20 825.57C639.37 825.51 639.54 825.45 639.70 825.38C639.87 825.31 640.04 825.24 640.20 825.16C640.37 825.08 640.54 824.99 640.70 824.90C640.87 824.80 641.04 824.70 641.20 824.59C641.37 824.48 641.54 824.36 641.70 824.23C641.87 824.09 642.04 823.95 642.20 823.81C642.37 823.65 642.54 823.49 642.70 823.33C642.87 823.16 643.03 822.98 643.20 822.81C643.37 822.64 643.53 822.46 643.70 822.29C643.86 822.14 644.02 821.98 644.20 821.84C644.36 821.72 644.52 821.60 644.70 821.52C644.86 821.45 645.03 821.40 645.20 821.40C645.37 821.40 645.54 821.45 645.70 821.52C645.88 821.60 646.04 821.72 646.20 821.84C646.38 821.98 646.54 822.14 646.70 822.29C646.87 822.46 647.03 822.64 647.20 822.81C647.37 822.98 647.53 823.16 647.70 823.33C647.86 823.49 648.03 823.65 648.20 823.81C648.36 823.95 648.53 824.09 648.70 824.23C648.86 824.36 649.03 824.48 649.20 824.59C649.36 824.70 649.53 824.80 649.70 824.90C649.86 824.99 650.03 825.08 650.20 825.16C650.36 825.24 650.53 825.31 650.70 825.38C650.86 825.45 651.03 825.51 651.20 825.57C651.37 825.62 651.53 825.67 651.70 825.72C651.87 825.77 652.03 825.81 652.20 825.85C652.37 825.90 652.53 825.93 652.70 825.97C652.87 826.00 653.03 826.03 653.20 826.06C653.37 826.09 653.53 826.12 653.70 826.15C653.87 826.17 654.03 826.20 654.20 826.22C654.37 826.24 654.53 826.26 654.70 826.28C654.87 826.30 655.03 826.32 655.20 826.34C655.37 826.35 655.53 826.37 655.70 826.39C655.87 826.40 656.03 826.42 656.20 826.43C656.37 826.44 656.53 826.45 656.70 826.47C656.87 826.48 657.03 826.50 657.20 826.50C657.97 826.51 658.73 826.51 659.50 826.50C659.67 826.50 659.83 826.48 660.00 826.46C660.17 826.45 660.33 826.44 660.50 826.42C660.67 826.41 660.83 826.39 661.00 826.38C661.17 826.36 661.33 826.34 661.50 826.33C661.67 826.31 661.83 826.29 662.00 826.27C662.17 826.24 662.33 826.22 662.50 826.20C662.67 826.17 662.83 826.15 663.00 826.12C663.17 826.09 663.33 826.06 663.50 826.03C663.67 826.00 663.83 825.96 664.00 825.93C664.17 825.89 664.33 825.85 664.50 825.80C664.67 825.76 664.83 825.71 665.00 825.66C665.17 825.61 665.33 825.55 665.50 825.49C665.67 825.43 665.84 825.37 666.00 825.29C666.17 825.22 666.34 825.14 666.50 825.06C666.67 824.97 666.84 824.88 667.00 824.78C667.17 824.67 667.34 824.56 667.50 824.44C667.67 824.32 667.84 824.19 668.00 824.05C668.17 823.90 668.34 823.75 668.50 823.59C668.67 823.43 668.84 823.25 669.00 823.08C669.17 822.90 669.33 822.71 669.50 822.52C669.67 822.34 669.83 822.14 670.00 821.96C670.16 821.79 670.32 821.62 670.50 821.47C670.66 821.34 670.82 821.21 671.00 821.13C671.16 821.05 671.33 821.00 671.50 821.00C671.67 821.00 671.84 821.05 672.00 821.13C672.18 821.21 672.34 821.34 672.50 821.47C672.68 821.62 672.84 821.79 673.00 821.96C673.17 822.14 673.33 822.34 673.50 822.52C673.67 822.71 673.83 822.90 674.00 823.08C674.16 823.25 674.33 823.43 674.50 823.59C674.66 823.75 674.83 823.90 675.00 824.05C675.16 824.19 675.33 824.32 675.50 824.44C675.66 824.56 675.83 824.67 676.00 824.78C676.16 824.88 676.33 824.97 676.50 825.06C676.66 825.14 676.83 825.22 677.00 825.29C677.16 825.37 677.33 825.43 677.50 825.49C677.67 825.55 677.83 825.61 678.00 825.66C678.17 825.71 678.33 825.76 678.50 825.80C678.67 825.85 678.83 825.89 679.00 825.93C679.17 825.96 679.33 826.00 679.50 826.03C679.67 826.06 679.83 826.09 680.00 826.12C680.17 826.15 680.33 826.17 680.50 826.20C680.67 826.22 680.83 826.24 681.00 826.27C681.17 826.29 681.33 826.31 681.50 826.33C681.67 826.34 681.83 826.36 682.00 826.38C682.17 826.39 682.33 826.41 682.50 826.42C682.67 826.44 682.83 826.45 683.00 826.46C683.17 826.48 683.33 826.50 683.50 826.50C696.43 826.51 709.37 826.50 722.30 826.50C722.47 826.50 722.63 826.49 722.80 826.49C722.97 826.49 723.13 826.48 723.30 826.48C723.47 826.47 723.63 826.47 723.80 826.46C723.97 826.46 724.13 826.45 724.30 826.45C724.47 826.44 724.63 826.44 724.80 826.43C724.97 826.42 725.13 826.42 725.30 826.41C725.47 826.40 725.63 826.39 725.80 826.38C725.97 826.38 726.13 826.37 726.30 826.36C726.47 826.35 726.63 826.33 726.80 826.32C726.97 826.31 727.13 826.30 727.30 826.28C727.47 826.27 727.63 826.25 727.80 826.24C727.97 826.22 728.13 826.20 728.30 826.18C728.47 826.16 728.63 826.14 728.80 826.11C728.97 826.09 729.13 826.06 729.30 826.03C729.47 826.00 729.63 825.97 729.80 825.93C729.97 825.90 730.13 825.86 730.30 825.82C730.47 825.77 730.63 825.73 730.80 825.68C730.97 825.63 731.13 825.58 731.30 825.52C731.47 825.47 731.63 825.41 731.80 825.36C731.97 825.31 732.13 825.25 732.30 825.20C732.47 825.15 732.63 825.11 732.80 825.07C732.97 825.04 733.13 825.02 733.30 825.01C733.47 825.00 733.63 825.00 733.80 825.01C733.97 825.03 734.13 825.06 734.30 825.10C734.47 825.13 734.63 825.18 734.80 825.23C734.97 825.28 735.13 825.34 735.30 825.39C735.47 825.45 735.63 825.50 735.80 825.56C735.97 825.61 736.13 825.66 736.30 825.71C736.47 825.75 736.63 825.80 736.80 825.84C736.97 825.88 737.13 825.92 737.30 825.95C737.47 825.99 737.63 826.02 737.80 826.05C737.97 826.08 738.13 826.10 738.30 826.13C738.47 826.15 738.63 826.17 738.80 826.19C738.97 826.21 739.13 826.23 739.30 826.25C739.47 826.26 739.63 826.28 739.80 826.29C739.97 826.31 740.13 826.32 740.30 826.33C740.47 826.34 740.63 826.35 740.80 826.36C740.97 826.37 741.13 826.38 741.30 826.39C741.47 826.40 741.63 826.41 741.80 826.41C741.97 826.42 742.13 826.43 742.30 826.43C742.47 826.44 742.63 826.45 742.80 826.45C742.97 826.46 743.13 826.46 743.30 826.47C743.47 826.47 743.63 826.48 743.80 826.48C743.97 826.48 744.13 826.49 744.30 826.49C746.53 826.50 748.77 826.51 751.00 826.50C751.17 826.50 751.33 826.48 751.50 826.46C751.67 826.45 751.83 826.44 752.00 826.42C752.17 826.41 752.33 826.39 752.50 826.38C752.67 826.36 752.83 826.34 753.00 826.33C753.17 826.31 753.33 826.29 753.50 826.27C753.67 826.24 753.83 826.22 754.00 826.20C754.17 826.17 754.33 826.15 754.50 826.12C754.67 826.09 754.83 826.06 755.00 826.03C755.17 826.00 755.33 825.96 755.50 825.93C755.67 825.89 755.83 825.85 756.00 825.80C756.17 825.76 756.33 825.71 756.50 825.66C756.67 825.61 756.83 825.55 757.00 825.49C757.17 825.43 757.34 825.37 757.50 825.29C757.67 825.22 757.84 825.14 758.00 825.06C758.17 824.97 758.34 824.88 758.50 824.78C758.67 824.67 758.84 824.56 759.00 824.44C759.17 824.32 759.34 824.19 759.50 824.05C759.67 823.90 759.84 823.75 760.00 823.59C760.17 823.43 760.34 823.25 760.50 823.08C760.67 822.90 760.83 822.71 761.00 822.52C761.17 822.34 761.33 822.14 761.50 821.96C761.66 821.79 761.82 821.62 762.00 821.47C762.16 821.34 762.32 821.21 762.50 821.13C762.66 821.05 762.83 821.00 763.00 821.00C763.17 821.00 763.34 821.05 763.50 821.13C763.68 821.21 763.84 821.34 764.00 821.47C764.18 821.62 764.34 821.79 764.50 821.96C764.67 822.14 764.83 822.34 765.00 822.52C765.17 822.71 765.33 822.90 765.50 823.08C765.66 823.25 765.83 823.43 766.00 823.59C766.16 823.75 766.33 823.90 766.50 824.05C766.66 824.19 766.83 824.32 767.00 824.44C767.16 824.56 767.33 824.67 767.50 824.78C767.66 824.88 767.83 824.97 768.00 825.06C768.16 825.14 768.33 825.22 768.50 825.29C768.66 825.37 768.83 825.43 769.00 825.49C769.17 825.55 769.33 825.61 769.50 825.66C769.67 825.71 769.83 825.76 770.00 825.80C770.17 825.85 770.33 825.89 770.50 825.93C770.67 825.96 770.83 826.00 771.00 826.03C771.17 826.06 771.33 826.09 771.50 826.12C771.67 826.15 771.83 826.17 772.00 826.20C772.17 826.22 772.33 826.24 772.50 826.27C772.67 826.29 772.83 826.31 773.00 826.33C773.17 826.34 773.33 826.36 773.50 826.38C773.67 826.39 773.83 826.41 774.00 826.42C774.17 826.44 774.33 826.45 774.50 826.46C774.67 826.48 774.83 826.50 775.00 826.50C778.67 826.42 782.35 826.51 786.00 826.20C789.03 825.94 792.03 825.42 795.00 824.80C797.60 824.25 800.43 824.09 802.70 822.70C804.91 821.34 806.06 818.74 807.90 816.90C809.30 815.50 811.62 814.83 812.40 813.00C814.30 808.54 815.07 803.62 815.60 798.80C817.01 785.98 817.40 773.07 818.20 760.20C819.13 745.17 819.94 730.13 820.80 715.10C821.44 703.90 822.70 681.50 822.70 681.50C822.70 681.50 823.87 703.91 824.60 715.10C825.57 730.14 826.67 745.17 827.80 760.20C828.61 770.94 829.19 781.70 830.40 792.40C831.13 798.88 831.79 805.44 833.60 811.70C834.62 815.22 835.74 819.37 838.80 821.40C843.47 824.50 849.41 825.43 855.00 825.90C869.95 827.15 885.00 826.27 900.00 826.50C900.07 826.50 900.13 826.59 900.20 826.60C900.37 826.62 900.53 826.59 900.70 826.58C900.87 826.57 901.03 826.56 901.20 826.55C901.37 826.54 901.53 826.53 901.70 826.52C901.87 826.51 902.03 826.49 902.20 826.48C902.37 826.46 902.53 826.44 902.70 826.42C902.87 826.40 903.03 826.37 903.20 826.34C903.37 826.31 903.53 826.28 903.70 826.24C903.87 826.20 904.04 826.15 904.20 826.10C904.37 826.04 904.54 825.98 904.70 825.90C904.87 825.82 905.04 825.74 905.20 825.64C905.37 825.55 905.53 825.44 905.70 825.34C905.86 825.25 906.02 825.14 906.20 825.08C906.36 825.03 906.53 824.99 906.70 825.01C906.87 825.02 907.04 825.10 907.20 825.17C907.38 825.25 907.53 825.37 907.70 825.46C907.87 825.56 908.03 825.66 908.20 825.75C908.36 825.84 908.53 825.92 908.70 825.99C908.86 826.05 909.03 826.11 909.20 826.16C909.36 826.21 909.53 826.25 909.70 826.29C909.87 826.32 910.03 826.35 910.20 826.38C910.37 826.40 910.53 826.43 910.70 826.44C910.87 826.46 911.03 826.48 911.20 826.50C911.37 826.51 911.53 826.52 911.70 826.53C911.87 826.55 912.03 826.56 912.20 826.56C912.37 826.57 912.53 826.59 912.70 826.59C999.80 826.67 1174.00 826.80 1174.00 826.80" fill="none" stroke="#009000" stroke-width="3.0" stroke-linejoin="round" stroke-linecap="round"/><path d="M11.00 950.80C11.00 950.80 101.00 950.83 146.00 950.80C147.33 950.80 143.33 950.79 142.00 950.72C141.83 950.72 142.33 950.67 142.50 950.64C142.67 950.61 142.83 950.58 143.00 950.55C143.17 950.51 143.33 950.48 143.50 950.44C143.67 950.40 143.83 950.37 144.00 950.32C144.17 950.28 144.33 950.24 144.50 950.19C144.67 950.14 144.83 950.09 145.00 950.04C145.17 949.98 145.33 949.92 145.50 949.86C145.67 949.80 145.84 949.73 146.00 949.66C146.17 949.59 146.34 949.51 146.50 949.43C146.67 949.35 146.84 949.26 147.00 949.16C147.17 949.07 147.34 948.96 147.50 948.85C147.67 948.74 147.84 948.62 148.00 948.49C148.17 948.35 148.34 948.21 148.50 948.06C148.67 947.90 148.84 947.74 149.00 947.56C149.17 947.38 149.34 947.18 149.50 946.98C149.68 946.75 149.84 946.52 150.00 946.29C150.18 946.02 150.34 945.76 150.50 945.48C150.68 945.18 150.84 944.87 151.00 944.55C151.17 944.21 151.34 943.86 151.50 943.51C151.67 943.13 151.84 942.75 152.00 942.37C152.17 941.98 152.33 941.58 152.50 941.19C152.66 940.83 152.82 940.45 153.00 940.09C153.15 939.79 153.30 939.48 153.50 939.21C153.64 939.01 153.79 938.81 154.00 938.69C154.15 938.61 154.34 938.58 154.50 938.64C154.71 938.72 154.86 938.90 155.00 939.07C155.20 939.32 155.35 939.61 155.50 939.89C155.68 940.24 155.84 940.61 156.00 940.96C156.17 941.35 156.33 941.74 156.50 942.13C156.67 942.52 156.83 942.90 157.00 943.29C157.16 943.64 157.33 944.00 157.50 944.35C157.66 944.68 157.82 944.99 158.00 945.31C158.16 945.59 158.32 945.87 158.50 946.14C158.66 946.38 158.82 946.62 159.00 946.85C159.16 947.06 159.33 947.26 159.50 947.45C159.66 947.63 159.83 947.81 160.00 947.97C160.16 948.12 160.33 948.27 160.50 948.41C160.66 948.54 160.83 948.67 161.00 948.78C161.16 948.90 161.33 949.00 161.50 949.11C161.66 949.20 161.83 949.29 162.00 949.38C162.16 949.46 162.33 949.54 162.50 949.62C162.66 949.69 162.83 949.76 163.00 949.82C163.17 949.89 163.33 949.95 163.50 950.00C163.67 950.06 163.83 950.11 164.00 950.16C164.17 950.21 164.33 950.25 164.50 950.30C164.67 950.34 164.83 950.38 165.00 950.42C165.17 950.46 165.33 950.49 165.50 950.53C165.67 950.56 165.83 950.59 166.00 950.62C166.17 950.65 166.67 950.70 166.50 950.71C165.20 950.78 161.30 950.80 162.60 950.80C203.07 950.83 284.00 950.80 284.00 950.80M295.5 950.8L447.0 950.8M460.0 950.8L531.0 950.8M544.00 950.80C544.00 950.80 548.73 950.83 551.10 950.80C551.27 950.80 551.43 950.75 551.60 950.71C551.77 950.68 551.93 950.65 552.10 950.62C552.27 950.58 552.43 950.55 552.60 950.51C552.77 950.47 552.93 950.43 553.10 950.38C553.27 950.34 553.43 950.29 553.60 950.24C553.77 950.19 553.93 950.13 554.10 950.07C554.27 950.01 554.44 949.95 554.60 949.88C554.77 949.81 554.94 949.73 555.10 949.65C555.27 949.57 555.44 949.48 555.60 949.38C555.77 949.28 555.94 949.18 556.10 949.06C556.27 948.95 556.44 948.82 556.60 948.69C556.77 948.54 556.94 948.39 557.10 948.24C557.27 948.06 557.44 947.88 557.60 947.69C557.78 947.48 557.94 947.26 558.10 947.04C558.28 946.79 558.44 946.52 558.60 946.26C558.78 945.95 558.94 945.64 559.10 945.32C559.28 944.96 559.44 944.60 559.60 944.23C559.78 943.82 559.94 943.41 560.10 942.99C560.27 942.56 560.43 942.12 560.60 941.68C560.76 941.26 560.92 940.83 561.10 940.41C561.25 940.07 561.40 939.72 561.60 939.40C561.73 939.19 561.88 938.96 562.10 938.85C562.25 938.78 562.46 938.82 562.60 938.91C562.82 939.08 562.96 939.33 563.10 939.57C563.30 939.92 563.45 940.29 563.60 940.66C563.78 941.08 563.93 941.51 564.10 941.94C564.27 942.38 564.43 942.82 564.60 943.25C564.76 943.66 564.92 944.06 565.10 944.46C565.26 944.82 565.42 945.17 565.60 945.52C565.76 945.83 565.92 946.13 566.10 946.42C566.26 946.68 566.42 946.93 566.60 947.18C566.76 947.40 566.92 947.61 567.10 947.81C567.26 947.99 567.43 948.17 567.60 948.33C567.76 948.49 567.93 948.63 568.10 948.77C568.26 948.90 568.43 949.02 568.60 949.13C568.76 949.24 568.93 949.34 569.10 949.44C569.26 949.53 569.43 949.62 569.60 949.70C569.76 949.78 569.93 949.85 570.10 949.92C570.26 949.99 570.43 950.05 570.60 950.11C570.77 950.16 570.93 950.22 571.10 950.27C571.27 950.32 571.43 950.37 571.60 950.41C571.77 950.45 571.93 950.49 572.10 950.53C572.27 950.57 572.43 950.61 572.60 950.64C572.77 950.67 572.93 950.73 573.10 950.73C584.40 950.79 607.00 950.80 607.00 950.80M619.00 950.80C619.00 950.80 631.80 950.82 638.20 950.80C638.37 950.80 638.53 950.75 638.70 950.73C638.87 950.70 639.03 950.68 639.20 950.65C639.37 950.62 639.53 950.59 639.70 950.56C639.87 950.52 640.03 950.49 640.20 950.45C640.37 950.41 640.53 950.38 640.70 950.33C640.87 950.29 641.03 950.24 641.20 950.19C641.37 950.14 641.53 950.09 641.70 950.03C641.87 949.97 642.04 949.91 642.20 949.84C642.37 949.77 642.54 949.70 642.70 949.62C642.87 949.54 643.04 949.45 643.20 949.35C643.37 949.26 643.54 949.15 643.70 949.04C643.87 948.92 644.04 948.80 644.20 948.66C644.37 948.52 644.54 948.37 644.70 948.21C644.87 948.04 645.04 947.86 645.20 947.67C645.38 947.46 645.54 947.24 645.70 947.01C645.88 946.76 646.04 946.50 646.20 946.23C646.38 945.94 646.54 945.63 646.70 945.32C646.87 944.99 647.04 944.64 647.20 944.30C647.37 943.93 647.53 943.56 647.70 943.20C647.86 942.85 648.02 942.49 648.20 942.15C648.35 941.86 648.50 941.56 648.70 941.30C648.84 941.12 648.99 940.93 649.20 940.84C649.36 940.78 649.56 940.81 649.70 940.90C649.91 941.02 650.06 941.24 650.20 941.44C650.40 941.73 650.54 942.04 650.70 942.35C650.88 942.70 651.03 943.06 651.20 943.42C651.37 943.78 651.53 944.15 651.70 944.51C651.86 944.85 652.02 945.19 652.20 945.52C652.36 945.82 652.52 946.11 652.70 946.40C652.86 946.66 653.02 946.91 653.20 947.15C653.36 947.37 653.52 947.58 653.70 947.78C653.86 947.97 654.03 948.14 654.20 948.31C654.36 948.46 654.53 948.61 654.70 948.74C654.86 948.87 655.03 948.99 655.20 949.11C655.36 949.22 655.53 949.32 655.70 949.41C655.86 949.50 656.03 949.59 656.20 949.67C656.36 949.74 656.53 949.81 656.70 949.88C656.86 949.95 657.03 950.01 657.20 950.07C657.37 950.12 657.53 950.17 657.70 950.22C657.87 950.27 658.03 950.32 658.20 950.36C658.37 950.40 658.53 950.44 658.70 950.47C658.87 950.51 659.03 950.54 659.20 950.58C659.37 950.61 659.53 950.64 659.70 950.67C659.87 950.69 660.03 950.74 660.20 950.74C661.83 950.78 663.47 950.80 665.10 950.80C665.27 950.80 665.43 950.75 665.60 950.73C665.77 950.70 665.93 950.68 666.10 950.65C666.27 950.62 666.43 950.59 666.60 950.56C666.77 950.52 666.93 950.49 667.10 950.45C667.27 950.41 667.43 950.38 667.60 950.33C667.77 950.29 667.93 950.24 668.10 950.19C668.27 950.14 668.43 950.09 668.60 950.03C668.77 949.97 668.94 949.91 669.10 949.84C669.27 949.77 669.44 949.70 669.60 949.62C669.77 949.54 669.94 949.45 670.10 949.35C670.27 949.26 670.44 949.15 670.60 949.04C670.77 948.92 670.94 948.80 671.10 948.66C671.27 948.52 671.44 948.37 671.60 948.21C671.77 948.04 671.94 947.86 672.10 947.67C672.28 947.46 672.44 947.24 672.60 947.01C672.78 946.76 672.94 946.50 673.10 946.23C673.28 945.94 673.44 945.63 673.60 945.32C673.77 944.99 673.94 944.64 674.10 944.30C674.27 943.93 674.43 943.56 674.60 943.20C674.76 942.85 674.92 942.49 675.10 942.15C675.25 941.86 675.40 941.56 675.60 941.30C675.74 941.12 675.89 940.93 676.10 940.84C676.26 940.78 676.46 940.81 676.60 940.90C676.81 941.02 676.96 941.24 677.10 941.44C677.30 941.73 677.44 942.04 677.60 942.35C677.78 942.70 677.93 943.06 678.10 943.42C678.27 943.78 678.43 944.15 678.60 944.51C678.76 944.85 678.92 945.19 679.10 945.52C679.26 945.82 679.42 946.11 679.60 946.40C679.76 946.66 679.92 946.91 680.10 947.15C680.26 947.37 680.42 947.58 680.60 947.78C680.76 947.97 680.93 948.14 681.10 948.31C681.26 948.46 681.43 948.61 681.60 948.74C681.76 948.87 681.93 948.99 682.10 949.11C682.26 949.22 682.43 949.32 682.60 949.41C682.76 949.50 682.93 949.59 683.10 949.67C683.26 949.74 683.43 949.81 683.60 949.88C683.76 949.95 683.93 950.01 684.10 950.07C684.27 950.12 684.43 950.17 684.60 950.22C684.77 950.27 684.93 950.32 685.10 950.36C685.27 950.40 685.43 950.44 685.60 950.47C685.77 950.51 685.93 950.54 686.10 950.58C686.27 950.61 686.43 950.64 686.60 950.67C686.77 950.69 686.93 950.74 687.10 950.74C700.07 950.79 713.03 950.79 726.00 950.80C726.17 950.80 726.33 950.79 726.50 950.78C726.67 950.78 726.83 950.77 727.00 950.76C727.17 950.76 727.33 950.75 727.50 950.74C727.67 950.73 727.83 950.72 728.00 950.71C728.17 950.71 728.33 950.69 728.50 950.68C728.67 950.67 728.83 950.66 729.00 950.65C729.17 950.63 729.33 950.62 729.50 950.60C729.67 950.58 729.83 950.57 730.00 950.55C730.17 950.53 730.33 950.51 730.50 950.48C730.67 950.46 730.83 950.43 731.00 950.40C731.17 950.37 731.33 950.34 731.50 950.30C731.67 950.26 731.83 950.22 732.00 950.17C732.17 950.13 732.34 950.08 732.50 950.02C732.67 949.96 732.84 949.90 733.00 949.83C733.17 949.76 733.34 949.68 733.50 949.60C733.67 949.52 733.83 949.44 734.00 949.35C734.17 949.27 734.33 949.18 734.50 949.10C734.66 949.03 734.83 948.95 735.00 948.90C735.16 948.85 735.33 948.81 735.50 948.80C735.67 948.79 735.84 948.81 736.00 948.85C736.17 948.88 736.34 948.95 736.50 949.01C736.67 949.08 736.83 949.17 737.00 949.25C737.17 949.33 737.33 949.42 737.50 949.51C737.67 949.59 737.83 949.67 738.00 949.74C738.16 949.82 738.33 949.88 738.50 949.95C738.66 950.01 738.83 950.06 739.00 950.12C739.17 950.17 739.33 950.21 739.50 950.25C739.67 950.29 739.83 950.33 740.00 950.36C740.17 950.39 740.33 950.42 740.50 950.45C740.67 950.48 740.83 950.50 741.00 950.52C741.17 950.54 741.33 950.56 741.50 950.58C741.67 950.60 741.83 950.61 742.00 950.63C742.17 950.64 742.33 950.66 742.50 950.67C742.67 950.68 742.83 950.69 743.00 950.70C743.17 950.71 743.33 950.72 743.50 950.73C743.67 950.74 743.83 950.75 744.00 950.76C744.17 950.76 744.33 950.77 744.50 950.78C744.67 950.78 744.83 950.79 745.00 950.79C748.30 950.80 751.60 950.82 754.90 950.80C755.07 950.80 755.23 950.75 755.40 950.73C755.57 950.70 755.73 950.68 755.90 950.65C756.07 950.62 756.23 950.59 756.40 950.56C756.57 950.52 756.73 950.49 756.90 950.45C757.07 950.41 757.23 950.38 757.40 950.33C757.57 950.29 757.73 950.24 757.90 950.19C758.07 950.14 758.23 950.09 758.40 950.03C758.57 949.97 758.74 949.91 758.90 949.84C759.07 949.77 759.24 949.70 759.40 949.62C759.57 949.54 759.74 949.45 759.90 949.35C760.07 949.26 760.24 949.15 760.40 949.04C760.57 948.92 760.74 948.80 760.90 948.66C761.07 948.52 761.24 948.37 761.40 948.21C761.57 948.04 761.74 947.86 761.90 947.67C762.08 947.46 762.24 947.24 762.40 947.01C762.58 946.76 762.74 946.50 762.90 946.23C763.08 945.94 763.24 945.63 763.40 945.32C763.57 944.99 763.74 944.64 763.90 944.30C764.07 943.93 764.23 943.56 764.40 943.20C764.56 942.85 764.72 942.49 764.90 942.15C765.05 941.86 765.20 941.56 765.40 941.30C765.54 941.12 765.69 940.93 765.90 940.84C766.06 940.78 766.26 940.81 766.40 940.90C766.61 941.02 766.76 941.24 766.90 941.44C767.10 941.73 767.24 942.04 767.40 942.35C767.58 942.70 767.73 943.06 767.90 943.42C768.07 943.78 768.23 944.15 768.40 944.51C768.56 944.85 768.72 945.19 768.90 945.52C769.06 945.82 769.22 946.11 769.40 946.40C769.56 946.66 769.72 946.91 769.90 947.15C770.06 947.37 770.22 947.58 770.40 947.78C770.56 947.97 770.73 948.14 770.90 948.31C771.06 948.46 771.23 948.61 771.40 948.74C771.56 948.87 771.73 948.99 771.90 949.11C772.06 949.22 772.23 949.32 772.40 949.41C772.56 949.50 772.73 949.59 772.90 949.67C773.06 949.74 773.23 949.81 773.40 949.88C773.56 949.95 773.73 950.01 773.90 950.07C774.07 950.12 774.23 950.17 774.40 950.22C774.57 950.27 774.73 950.32 774.90 950.36C775.07 950.40 775.23 950.44 775.40 950.47C775.57 950.51 775.73 950.54 775.90 950.58C776.07 950.61 776.23 950.64 776.40 950.67C776.57 950.69 776.73 950.76 776.90 950.74C781.27 950.40 785.64 950.03 790.00 949.60C794.57 949.15 799.54 950.05 803.70 948.10C806.51 946.78 807.67 943.29 809.20 940.60C810.42 938.45 810.08 935.37 811.90 933.70C813.08 932.62 816.07 935.17 816.70 933.70C819.06 928.18 819.03 921.89 819.50 915.90C820.64 901.33 820.79 886.70 821.50 872.10C822.16 858.43 822.68 844.75 823.60 831.10C824.15 822.88 825.90 806.50 825.90 806.50C825.90 806.50 827.38 822.88 827.70 831.10C828.41 849.32 828.20 867.58 829.00 885.80C829.56 898.59 830.08 911.42 831.80 924.10C832.62 930.19 833.74 936.46 836.60 941.90C838.26 945.06 841.33 947.95 844.80 948.80C852.97 950.81 861.59 949.88 870.00 950.10C881.66 950.41 893.33 950.26 905.00 950.40C905.30 950.40 904.10 950.50 904.10 950.50C904.10 950.50 904.43 950.49 904.60 950.48C904.77 950.47 904.93 950.46 905.10 950.45C905.27 950.44 905.43 950.43 905.60 950.41C905.77 950.40 905.93 950.39 906.10 950.37C906.27 950.35 906.43 950.33 906.60 950.31C906.77 950.29 906.93 950.26 907.10 950.23C907.27 950.20 907.43 950.16 907.60 950.12C907.77 950.07 907.94 950.03 908.10 949.97C908.27 949.91 908.44 949.84 908.60 949.76C908.77 949.68 908.94 949.58 909.10 949.48C909.27 949.38 909.43 949.26 909.60 949.16C909.76 949.06 909.92 948.95 910.10 948.88C910.26 948.83 910.43 948.79 910.60 948.81C910.78 948.82 910.94 948.90 911.10 948.98C911.28 949.07 911.43 949.19 911.60 949.29C911.77 949.40 911.93 949.51 912.10 949.60C912.26 949.69 912.43 949.78 912.60 949.85C912.76 949.92 912.93 949.98 913.10 950.03C913.26 950.09 913.43 950.13 913.60 950.17C913.77 950.21 913.93 950.24 914.10 950.26C914.27 950.29 914.43 950.31 914.60 950.34C914.77 950.36 914.93 950.37 915.10 950.39C915.27 950.40 915.43 950.42 915.60 950.43C915.77 950.44 915.93 950.45 916.10 950.46C916.27 950.47 916.43 950.49 916.60 950.49C1002.40 950.60 1174.00 950.80 1174.00 950.80" fill="none" stroke="#868610" stroke-opacity="0.28" stroke-width="4.8" stroke-linejoin="round" stroke-linecap="round"/><path d="M11.00 950.80C11.00 950.80 101.00 950.83 146.00 950.80C147.33 950.80 143.33 950.79 142.00 950.72C141.83 950.72 142.33 950.67 142.50 950.64C142.67 950.61 142.83 950.58 143.00 950.55C143.17 950.51 143.33 950.48 143.50 950.44C143.67 950.40 143.83 950.37 144.00 950.32C144.17 950.28 144.33 950.24 144.50 950.19C144.67 950.14 144.83 950.09 145.00 950.04C145.17 949.98 145.33 949.92 145.50 949.86C145.67 949.80 145.84 949.73 146.00 949.66C146.17 949.59 146.34 949.51 146.50 949.43C146.67 949.35 146.84 949.26 147.00 949.16C147.17 949.07 147.34 948.96 147.50 948.85C147.67 948.74 147.84 948.62 148.00 948.49C148.17 948.35 148.34 948.21 148.50 948.06C148.67 947.90 148.84 947.74 149.00 947.56C149.17 947.38 149.34 947.18 149.50 946.98C149.68 946.75 149.84 946.52 150.00 946.29C150.18 946.02 150.34 945.76 150.50 945.48C150.68 945.18 150.84 944.87 151.00 944.55C151.17 944.21 151.34 943.86 151.50 943.51C151.67 943.13 151.84 942.75 152.00 942.37C152.17 941.98 152.33 941.58 152.50 941.19C152.66 940.83 152.82 940.45 153.00 940.09C153.15 939.79 153.30 939.48 153.50 939.21C153.64 939.01 153.79 938.81 154.00 938.69C154.15 938.61 154.34 938.58 154.50 938.64C154.71 938.72 154.86 938.90 155.00 939.07C155.20 939.32 155.35 939.61 155.50 939.89C155.68 940.24 155.84 940.61 156.00 940.96C156.17 941.35 156.33 941.74 156.50 942.13C156.67 942.52 156.83 942.90 157.00 943.29C157.16 943.64 157.33 944.00 157.50 944.35C157.66 944.68 157.82 944.99 158.00 945.31C158.16 945.59 158.32 945.87 158.50 946.14C158.66 946.38 158.82 946.62 159.00 946.85C159.16 947.06 159.33 947.26 159.50 947.45C159.66 947.63 159.83 947.81 160.00 947.97C160.16 948.12 160.33 948.27 160.50 948.41C160.66 948.54 160.83 948.67 161.00 948.78C161.16 948.90 161.33 949.00 161.50 949.11C161.66 949.20 161.83 949.29 162.00 949.38C162.16 949.46 162.33 949.54 162.50 949.62C162.66 949.69 162.83 949.76 163.00 949.82C163.17 949.89 163.33 949.95 163.50 950.00C163.67 950.06 163.83 950.11 164.00 950.16C164.17 950.21 164.33 950.25 164.50 950.30C164.67 950.34 164.83 950.38 165.00 950.42C165.17 950.46 165.33 950.49 165.50 950.53C165.67 950.56 165.83 950.59 166.00 950.62C166.17 950.65 166.67 950.70 166.50 950.71C165.20 950.78 161.30 950.80 162.60 950.80C203.07 950.83 284.00 950.80 284.00 950.80M295.5 950.8L447.0 950.8M460.0 950.8L531.0 950.8M544.00 950.80C544.00 950.80 548.73 950.83 551.10 950.80C551.27 950.80 551.43 950.75 551.60 950.71C551.77 950.68 551.93 950.65 552.10 950.62C552.27 950.58 552.43 950.55 552.60 950.51C552.77 950.47 552.93 950.43 553.10 950.38C553.27 950.34 553.43 950.29 553.60 950.24C553.77 950.19 553.93 950.13 554.10 950.07C554.27 950.01 554.44 949.95 554.60 949.88C554.77 949.81 554.94 949.73 555.10 949.65C555.27 949.57 555.44 949.48 555.60 949.38C555.77 949.28 555.94 949.18 556.10 949.06C556.27 948.95 556.44 948.82 556.60 948.69C556.77 948.54 556.94 948.39 557.10 948.24C557.27 948.06 557.44 947.88 557.60 947.69C557.78 947.48 557.94 947.26 558.10 947.04C558.28 946.79 558.44 946.52 558.60 946.26C558.78 945.95 558.94 945.64 559.10 945.32C559.28 944.96 559.44 944.60 559.60 944.23C559.78 943.82 559.94 943.41 560.10 942.99C560.27 942.56 560.43 942.12 560.60 941.68C560.76 941.26 560.92 940.83 561.10 940.41C561.25 940.07 561.40 939.72 561.60 939.40C561.73 939.19 561.88 938.96 562.10 938.85C562.25 938.78 562.46 938.82 562.60 938.91C562.82 939.08 562.96 939.33 563.10 939.57C563.30 939.92 563.45 940.29 563.60 940.66C563.78 941.08 563.93 941.51 564.10 941.94C564.27 942.38 564.43 942.82 564.60 943.25C564.76 943.66 564.92 944.06 565.10 944.46C565.26 944.82 565.42 945.17 565.60 945.52C565.76 945.83 565.92 946.13 566.10 946.42C566.26 946.68 566.42 946.93 566.60 947.18C566.76 947.40 566.92 947.61 567.10 947.81C567.26 947.99 567.43 948.17 567.60 948.33C567.76 948.49 567.93 948.63 568.10 948.77C568.26 948.90 568.43 949.02 568.60 949.13C568.76 949.24 568.93 949.34 569.10 949.44C569.26 949.53 569.43 949.62 569.60 949.70C569.76 949.78 569.93 949.85 570.10 949.92C570.26 949.99 570.43 950.05 570.60 950.11C570.77 950.16 570.93 950.22 571.10 950.27C571.27 950.32 571.43 950.37 571.60 950.41C571.77 950.45 571.93 950.49 572.10 950.53C572.27 950.57 572.43 950.61 572.60 950.64C572.77 950.67 572.93 950.73 573.10 950.73C584.40 950.79 607.00 950.80 607.00 950.80M619.00 950.80C619.00 950.80 631.80 950.82 638.20 950.80C638.37 950.80 638.53 950.75 638.70 950.73C638.87 950.70 639.03 950.68 639.20 950.65C639.37 950.62 639.53 950.59 639.70 950.56C639.87 950.52 640.03 950.49 640.20 950.45C640.37 950.41 640.53 950.38 640.70 950.33C640.87 950.29 641.03 950.24 641.20 950.19C641.37 950.14 641.53 950.09 641.70 950.03C641.87 949.97 642.04 949.91 642.20 949.84C642.37 949.77 642.54 949.70 642.70 949.62C642.87 949.54 643.04 949.45 643.20 949.35C643.37 949.26 643.54 949.15 643.70 949.04C643.87 948.92 644.04 948.80 644.20 948.66C644.37 948.52 644.54 948.37 644.70 948.21C644.87 948.04 645.04 947.86 645.20 947.67C645.38 947.46 645.54 947.24 645.70 947.01C645.88 946.76 646.04 946.50 646.20 946.23C646.38 945.94 646.54 945.63 646.70 945.32C646.87 944.99 647.04 944.64 647.20 944.30C647.37 943.93 647.53 943.56 647.70 943.20C647.86 942.85 648.02 942.49 648.20 942.15C648.35 941.86 648.50 941.56 648.70 941.30C648.84 941.12 648.99 940.93 649.20 940.84C649.36 940.78 649.56 940.81 649.70 940.90C649.91 941.02 650.06 941.24 650.20 941.44C650.40 941.73 650.54 942.04 650.70 942.35C650.88 942.70 651.03 943.06 651.20 943.42C651.37 943.78 651.53 944.15 651.70 944.51C651.86 944.85 652.02 945.19 652.20 945.52C652.36 945.82 652.52 946.11 652.70 946.40C652.86 946.66 653.02 946.91 653.20 947.15C653.36 947.37 653.52 947.58 653.70 947.78C653.86 947.97 654.03 948.14 654.20 948.31C654.36 948.46 654.53 948.61 654.70 948.74C654.86 948.87 655.03 948.99 655.20 949.11C655.36 949.22 655.53 949.32 655.70 949.41C655.86 949.50 656.03 949.59 656.20 949.67C656.36 949.74 656.53 949.81 656.70 949.88C656.86 949.95 657.03 950.01 657.20 950.07C657.37 950.12 657.53 950.17 657.70 950.22C657.87 950.27 658.03 950.32 658.20 950.36C658.37 950.40 658.53 950.44 658.70 950.47C658.87 950.51 659.03 950.54 659.20 950.58C659.37 950.61 659.53 950.64 659.70 950.67C659.87 950.69 660.03 950.74 660.20 950.74C661.83 950.78 663.47 950.80 665.10 950.80C665.27 950.80 665.43 950.75 665.60 950.73C665.77 950.70 665.93 950.68 666.10 950.65C666.27 950.62 666.43 950.59 666.60 950.56C666.77 950.52 666.93 950.49 667.10 950.45C667.27 950.41 667.43 950.38 667.60 950.33C667.77 950.29 667.93 950.24 668.10 950.19C668.27 950.14 668.43 950.09 668.60 950.03C668.77 949.97 668.94 949.91 669.10 949.84C669.27 949.77 669.44 949.70 669.60 949.62C669.77 949.54 669.94 949.45 670.10 949.35C670.27 949.26 670.44 949.15 670.60 949.04C670.77 948.92 670.94 948.80 671.10 948.66C671.27 948.52 671.44 948.37 671.60 948.21C671.77 948.04 671.94 947.86 672.10 947.67C672.28 947.46 672.44 947.24 672.60 947.01C672.78 946.76 672.94 946.50 673.10 946.23C673.28 945.94 673.44 945.63 673.60 945.32C673.77 944.99 673.94 944.64 674.10 944.30C674.27 943.93 674.43 943.56 674.60 943.20C674.76 942.85 674.92 942.49 675.10 942.15C675.25 941.86 675.40 941.56 675.60 941.30C675.74 941.12 675.89 940.93 676.10 940.84C676.26 940.78 676.46 940.81 676.60 940.90C676.81 941.02 676.96 941.24 677.10 941.44C677.30 941.73 677.44 942.04 677.60 942.35C677.78 942.70 677.93 943.06 678.10 943.42C678.27 943.78 678.43 944.15 678.60 944.51C678.76 944.85 678.92 945.19 679.10 945.52C679.26 945.82 679.42 946.11 679.60 946.40C679.76 946.66 679.92 946.91 680.10 947.15C680.26 947.37 680.42 947.58 680.60 947.78C680.76 947.97 680.93 948.14 681.10 948.31C681.26 948.46 681.43 948.61 681.60 948.74C681.76 948.87 681.93 948.99 682.10 949.11C682.26 949.22 682.43 949.32 682.60 949.41C682.76 949.50 682.93 949.59 683.10 949.67C683.26 949.74 683.43 949.81 683.60 949.88C683.76 949.95 683.93 950.01 684.10 950.07C684.27 950.12 684.43 950.17 684.60 950.22C684.77 950.27 684.93 950.32 685.10 950.36C685.27 950.40 685.43 950.44 685.60 950.47C685.77 950.51 685.93 950.54 686.10 950.58C686.27 950.61 686.43 950.64 686.60 950.67C686.77 950.69 686.93 950.74 687.10 950.74C700.07 950.79 713.03 950.79 726.00 950.80C726.17 950.80 726.33 950.79 726.50 950.78C726.67 950.78 726.83 950.77 727.00 950.76C727.17 950.76 727.33 950.75 727.50 950.74C727.67 950.73 727.83 950.72 728.00 950.71C728.17 950.71 728.33 950.69 728.50 950.68C728.67 950.67 728.83 950.66 729.00 950.65C729.17 950.63 729.33 950.62 729.50 950.60C729.67 950.58 729.83 950.57 730.00 950.55C730.17 950.53 730.33 950.51 730.50 950.48C730.67 950.46 730.83 950.43 731.00 950.40C731.17 950.37 731.33 950.34 731.50 950.30C731.67 950.26 731.83 950.22 732.00 950.17C732.17 950.13 732.34 950.08 732.50 950.02C732.67 949.96 732.84 949.90 733.00 949.83C733.17 949.76 733.34 949.68 733.50 949.60C733.67 949.52 733.83 949.44 734.00 949.35C734.17 949.27 734.33 949.18 734.50 949.10C734.66 949.03 734.83 948.95 735.00 948.90C735.16 948.85 735.33 948.81 735.50 948.80C735.67 948.79 735.84 948.81 736.00 948.85C736.17 948.88 736.34 948.95 736.50 949.01C736.67 949.08 736.83 949.17 737.00 949.25C737.17 949.33 737.33 949.42 737.50 949.51C737.67 949.59 737.83 949.67 738.00 949.74C738.16 949.82 738.33 949.88 738.50 949.95C738.66 950.01 738.83 950.06 739.00 950.12C739.17 950.17 739.33 950.21 739.50 950.25C739.67 950.29 739.83 950.33 740.00 950.36C740.17 950.39 740.33 950.42 740.50 950.45C740.67 950.48 740.83 950.50 741.00 950.52C741.17 950.54 741.33 950.56 741.50 950.58C741.67 950.60 741.83 950.61 742.00 950.63C742.17 950.64 742.33 950.66 742.50 950.67C742.67 950.68 742.83 950.69 743.00 950.70C743.17 950.71 743.33 950.72 743.50 950.73C743.67 950.74 743.83 950.75 744.00 950.76C744.17 950.76 744.33 950.77 744.50 950.78C744.67 950.78 744.83 950.79 745.00 950.79C748.30 950.80 751.60 950.82 754.90 950.80C755.07 950.80 755.23 950.75 755.40 950.73C755.57 950.70 755.73 950.68 755.90 950.65C756.07 950.62 756.23 950.59 756.40 950.56C756.57 950.52 756.73 950.49 756.90 950.45C757.07 950.41 757.23 950.38 757.40 950.33C757.57 950.29 757.73 950.24 757.90 950.19C758.07 950.14 758.23 950.09 758.40 950.03C758.57 949.97 758.74 949.91 758.90 949.84C759.07 949.77 759.24 949.70 759.40 949.62C759.57 949.54 759.74 949.45 759.90 949.35C760.07 949.26 760.24 949.15 760.40 949.04C760.57 948.92 760.74 948.80 760.90 948.66C761.07 948.52 761.24 948.37 761.40 948.21C761.57 948.04 761.74 947.86 761.90 947.67C762.08 947.46 762.24 947.24 762.40 947.01C762.58 946.76 762.74 946.50 762.90 946.23C763.08 945.94 763.24 945.63 763.40 945.32C763.57 944.99 763.74 944.64 763.90 944.30C764.07 943.93 764.23 943.56 764.40 943.20C764.56 942.85 764.72 942.49 764.90 942.15C765.05 941.86 765.20 941.56 765.40 941.30C765.54 941.12 765.69 940.93 765.90 940.84C766.06 940.78 766.26 940.81 766.40 940.90C766.61 941.02 766.76 941.24 766.90 941.44C767.10 941.73 767.24 942.04 767.40 942.35C767.58 942.70 767.73 943.06 767.90 943.42C768.07 943.78 768.23 944.15 768.40 944.51C768.56 944.85 768.72 945.19 768.90 945.52C769.06 945.82 769.22 946.11 769.40 946.40C769.56 946.66 769.72 946.91 769.90 947.15C770.06 947.37 770.22 947.58 770.40 947.78C770.56 947.97 770.73 948.14 770.90 948.31C771.06 948.46 771.23 948.61 771.40 948.74C771.56 948.87 771.73 948.99 771.90 949.11C772.06 949.22 772.23 949.32 772.40 949.41C772.56 949.50 772.73 949.59 772.90 949.67C773.06 949.74 773.23 949.81 773.40 949.88C773.56 949.95 773.73 950.01 773.90 950.07C774.07 950.12 774.23 950.17 774.40 950.22C774.57 950.27 774.73 950.32 774.90 950.36C775.07 950.40 775.23 950.44 775.40 950.47C775.57 950.51 775.73 950.54 775.90 950.58C776.07 950.61 776.23 950.64 776.40 950.67C776.57 950.69 776.73 950.76 776.90 950.74C781.27 950.40 785.64 950.03 790.00 949.60C794.57 949.15 799.54 950.05 803.70 948.10C806.51 946.78 807.67 943.29 809.20 940.60C810.42 938.45 810.08 935.37 811.90 933.70C813.08 932.62 816.07 935.17 816.70 933.70C819.06 928.18 819.03 921.89 819.50 915.90C820.64 901.33 820.79 886.70 821.50 872.10C822.16 858.43 822.68 844.75 823.60 831.10C824.15 822.88 825.90 806.50 825.90 806.50C825.90 806.50 827.38 822.88 827.70 831.10C828.41 849.32 828.20 867.58 829.00 885.80C829.56 898.59 830.08 911.42 831.80 924.10C832.62 930.19 833.74 936.46 836.60 941.90C838.26 945.06 841.33 947.95 844.80 948.80C852.97 950.81 861.59 949.88 870.00 950.10C881.66 950.41 893.33 950.26 905.00 950.40C905.30 950.40 904.10 950.50 904.10 950.50C904.10 950.50 904.43 950.49 904.60 950.48C904.77 950.47 904.93 950.46 905.10 950.45C905.27 950.44 905.43 950.43 905.60 950.41C905.77 950.40 905.93 950.39 906.10 950.37C906.27 950.35 906.43 950.33 906.60 950.31C906.77 950.29 906.93 950.26 907.10 950.23C907.27 950.20 907.43 950.16 907.60 950.12C907.77 950.07 907.94 950.03 908.10 949.97C908.27 949.91 908.44 949.84 908.60 949.76C908.77 949.68 908.94 949.58 909.10 949.48C909.27 949.38 909.43 949.26 909.60 949.16C909.76 949.06 909.92 948.95 910.10 948.88C910.26 948.83 910.43 948.79 910.60 948.81C910.78 948.82 910.94 948.90 911.10 948.98C911.28 949.07 911.43 949.19 911.60 949.29C911.77 949.40 911.93 949.51 912.10 949.60C912.26 949.69 912.43 949.78 912.60 949.85C912.76 949.92 912.93 949.98 913.10 950.03C913.26 950.09 913.43 950.13 913.60 950.17C913.77 950.21 913.93 950.24 914.10 950.26C914.27 950.29 914.43 950.31 914.60 950.34C914.77 950.36 914.93 950.37 915.10 950.39C915.27 950.40 915.43 950.42 915.60 950.43C915.77 950.44 915.93 950.45 916.10 950.46C916.27 950.47 916.43 950.49 916.60 950.49C1002.40 950.60 1174.00 950.80 1174.00 950.80" fill="none" stroke="#868610" stroke-width="3.0" stroke-linejoin="round" stroke-linecap="round"/><path d="M11.00 1074.00C11.00 1074.00 30.34 1074.67 40.00 1074.30C43.38 1074.17 46.67 1073.09 50.00 1072.50C51.53 1072.23 53.06 1071.50 54.60 1071.70C56.52 1071.95 58.07 1073.69 60.00 1073.80C73.31 1074.56 86.67 1074.59 100.00 1074.30C105.20 1074.19 110.47 1073.90 115.50 1072.60C117.15 1072.17 118.54 1070.77 119.40 1069.30C121.01 1066.54 121.62 1063.31 122.70 1060.30C123.79 1057.27 125.90 1051.20 125.90 1051.20C125.90 1051.20 127.25 1055.51 127.80 1057.70C128.55 1060.68 128.62 1063.86 129.80 1066.70C130.63 1068.70 132.04 1070.51 133.70 1071.90C135.13 1073.09 136.95 1073.95 138.80 1074.20C140.96 1074.50 143.16 1073.90 145.30 1073.50C148.37 1072.93 151.83 1073.07 154.40 1071.30C156.73 1069.69 157.84 1066.72 158.90 1064.10C160.23 1060.82 160.78 1057.27 161.50 1053.80C162.21 1050.36 163.20 1043.40 163.20 1043.40C163.20 1043.40 164.15 1049.47 164.70 1052.50C165.32 1055.94 165.73 1059.44 166.70 1062.80C167.48 1065.50 167.80 1068.73 169.90 1070.60C171.90 1072.39 175.09 1071.95 177.70 1072.60C178.99 1072.92 180.27 1073.65 181.60 1073.50C184.25 1073.20 187.01 1072.67 189.30 1071.30C191.66 1069.88 193.65 1067.75 195.10 1065.40C196.52 1063.10 197.29 1060.38 197.70 1057.70C199.03 1049.13 199.42 1040.43 200.30 1031.80C200.96 1025.33 201.73 1018.88 202.30 1012.40C202.83 1006.44 203.60 994.50 203.60 994.50C203.60 994.50 204.15 1002.11 204.60 1005.90C205.22 1011.08 206.03 1016.24 206.80 1021.40C207.83 1028.31 208.26 1035.34 210.00 1042.10C210.47 1043.93 212.60 1044.95 213.30 1046.70C214.37 1049.37 214.52 1052.31 215.20 1055.10C215.82 1057.68 217.20 1062.80 217.20 1062.80C217.20 1062.80 220.00 1063.21 220.40 1062.20C221.93 1058.34 221.67 1054.00 222.30 1049.90C222.73 1047.10 223.60 1041.50 223.60 1041.50C223.60 1041.50 226.20 1042.80 226.20 1042.80C226.20 1042.80 227.98 1040.64 228.80 1039.50C229.42 1038.64 230.50 1036.80 230.50 1036.80C230.50 1036.80 231.73 1039.40 232.00 1040.80C232.90 1045.53 233.10 1050.37 234.00 1055.10C234.83 1059.45 235.53 1063.89 237.20 1068.00C237.96 1069.86 239.37 1071.57 241.10 1072.60C243.02 1073.74 245.44 1073.64 247.60 1074.20C248.91 1074.54 250.15 1075.26 251.50 1075.30C262.33 1075.63 284.00 1075.30 284.00 1075.30M295.5 1075.3L447.0 1075.3M460.0 1075.0L531.0 1075.0M544.00 1074.60C544.00 1074.60 551.00 1073.39 553.90 1071.50C556.02 1070.12 557.68 1067.76 558.30 1065.30C560.17 1057.87 561.20 1042.50 561.20 1042.50C561.20 1042.50 563.07 1048.92 564.10 1052.10C565.30 1055.79 567.90 1063.10 567.90 1063.10C567.90 1063.10 571.19 1058.64 571.60 1056.00C573.05 1046.79 572.74 1037.40 573.40 1028.10C573.94 1020.43 574.28 1012.74 575.20 1005.10C575.75 1000.52 577.80 991.50 577.80 991.50C577.80 991.50 580.90 1007.80 580.90 1007.80C580.90 1007.80 582.67 1007.57 583.10 1006.90C584.11 1005.33 584.90 1001.60 584.90 1001.60C584.90 1001.60 586.22 1013.39 586.70 1019.30C587.42 1028.16 587.65 1037.05 588.50 1045.90C589.12 1052.39 588.98 1059.13 591.10 1065.30C592.05 1068.06 594.72 1070.12 597.30 1071.50C600.23 1073.07 607.00 1073.80 607.00 1073.80M619.00 1074.10C619.00 1074.10 624.29 1073.88 626.30 1072.40C628.20 1071.00 629.14 1068.49 629.70 1066.20C631.43 1059.12 633.10 1044.60 633.10 1044.60C633.10 1044.60 634.89 1055.72 636.50 1061.10C637.18 1063.36 639.90 1067.30 639.90 1067.30C639.90 1067.30 642.89 1065.08 643.30 1063.40C645.01 1056.38 644.46 1048.94 646.10 1041.90C646.27 1041.19 647.83 1041.34 648.30 1041.90C649.36 1043.15 650.00 1046.50 650.00 1046.50C650.00 1046.50 652.65 1030.01 653.40 1021.70C654.35 1011.19 654.60 1000.64 655.10 990.10C655.64 978.74 656.50 956.00 656.50 956.00C656.50 956.00 657.28 978.74 657.90 990.10C658.51 1001.38 659.34 1012.64 660.20 1023.90C661.04 1034.81 661.41 1045.78 663.00 1056.60C663.49 1059.96 664.38 1063.47 666.40 1066.20C667.32 1067.44 669.39 1067.62 670.90 1067.30C672.34 1066.99 673.86 1065.90 674.30 1064.50C676.94 1056.07 678.53 1047.33 679.90 1038.60C681.54 1028.13 681.92 1017.50 683.30 1007.00C684.19 1000.23 686.70 986.80 686.70 986.80C686.70 986.80 688.25 1003.99 688.90 1012.60C689.75 1023.89 690.07 1035.23 691.20 1046.50C691.77 1052.18 692.29 1057.95 694.00 1063.40C694.44 1064.80 697.40 1066.20 697.40 1066.20C697.40 1066.20 700.53 1064.38 700.80 1062.80C702.66 1051.82 702.12 1040.54 703.60 1029.50C704.09 1025.82 706.70 1018.80 706.70 1018.80C706.70 1018.80 708.14 1029.72 708.70 1035.20C709.54 1043.46 709.50 1051.82 710.90 1060.00C711.38 1062.83 714.30 1067.90 714.30 1067.90C714.30 1067.90 716.89 1067.58 717.70 1066.70C719.29 1064.96 721.10 1060.50 721.10 1060.50C721.10 1060.50 723.12 1062.31 723.90 1063.40C725.56 1065.72 726.38 1068.68 728.40 1070.70C729.53 1071.83 731.30 1072.27 732.90 1072.40C739.48 1072.94 746.17 1073.67 752.70 1072.70C754.81 1072.39 756.83 1070.65 757.70 1068.70C759.60 1064.47 759.08 1059.48 760.60 1055.10C761.22 1053.32 763.16 1052.28 764.00 1050.60C765.62 1047.34 767.31 1043.99 767.90 1040.40C769.19 1032.55 769.08 1024.54 769.60 1016.60C770.11 1008.90 771.00 993.50 771.00 993.50C771.00 993.50 772.02 1008.90 772.50 1016.60C773.09 1026.03 773.22 1035.50 774.20 1044.90C774.92 1051.76 775.60 1058.70 777.60 1065.30C778.30 1067.62 780.07 1069.67 782.10 1071.00C784.05 1072.28 786.60 1072.30 788.90 1072.70C790.78 1073.03 792.75 1073.67 794.60 1073.20C796.72 1072.66 798.66 1071.34 800.20 1069.80C802.14 1067.86 803.05 1065.10 804.80 1063.00C805.74 1061.87 807.93 1061.64 808.20 1060.20C810.07 1050.33 809.43 1040.12 811.00 1030.20C811.51 1026.97 814.40 1021.00 814.40 1021.00C814.40 1021.00 818.10 1043.20 818.10 1043.20C818.10 1043.20 819.50 1021.71 820.60 1011.00C821.76 999.70 824.90 977.20 824.90 977.20C824.90 977.20 826.51 995.94 827.40 1005.30C828.11 1012.84 829.03 1020.36 829.70 1027.90C830.53 1037.33 830.25 1046.88 831.90 1056.20C832.55 1059.87 834.49 1063.26 836.50 1066.40C837.94 1068.64 839.78 1070.79 842.10 1072.10C844.11 1073.23 846.59 1073.49 848.90 1073.40C852.00 1073.28 854.90 1071.53 858.00 1071.50C862.04 1071.46 865.97 1072.99 870.00 1073.20C875.49 1073.49 881.26 1074.67 886.50 1073.00C888.63 1072.32 888.58 1069.04 889.50 1067.00C890.54 1064.70 892.40 1060.00 892.40 1060.00C892.40 1060.00 894.01 1064.06 895.00 1066.00C896.14 1068.23 896.31 1072.16 898.80 1072.50C914.06 1074.58 929.60 1073.01 945.00 1072.80C946.47 1072.78 947.83 1071.80 949.30 1071.80C950.58 1071.80 951.72 1072.74 953.00 1072.80C959.33 1073.08 965.70 1073.40 972.00 1072.80C973.83 1072.62 975.36 1071.33 977.00 1070.50C979.30 1069.33 981.24 1067.13 983.80 1066.80C985.95 1066.52 987.98 1068.02 990.00 1068.80C993.31 1070.08 996.25 1072.91 999.80 1073.00C1057.85 1074.42 1174.00 1073.30 1174.00 1073.30" fill="none" stroke="#a50e0e" stroke-opacity="0.28" stroke-width="4.8" stroke-linejoin="round" stroke-linecap="round"/><path d="M11.00 1074.00C11.00 1074.00 30.34 1074.67 40.00 1074.30C43.38 1074.17 46.67 1073.09 50.00 1072.50C51.53 1072.23 53.06 1071.50 54.60 1071.70C56.52 1071.95 58.07 1073.69 60.00 1073.80C73.31 1074.56 86.67 1074.59 100.00 1074.30C105.20 1074.19 110.47 1073.90 115.50 1072.60C117.15 1072.17 118.54 1070.77 119.40 1069.30C121.01 1066.54 121.62 1063.31 122.70 1060.30C123.79 1057.27 125.90 1051.20 125.90 1051.20C125.90 1051.20 127.25 1055.51 127.80 1057.70C128.55 1060.68 128.62 1063.86 129.80 1066.70C130.63 1068.70 132.04 1070.51 133.70 1071.90C135.13 1073.09 136.95 1073.95 138.80 1074.20C140.96 1074.50 143.16 1073.90 145.30 1073.50C148.37 1072.93 151.83 1073.07 154.40 1071.30C156.73 1069.69 157.84 1066.72 158.90 1064.10C160.23 1060.82 160.78 1057.27 161.50 1053.80C162.21 1050.36 163.20 1043.40 163.20 1043.40C163.20 1043.40 164.15 1049.47 164.70 1052.50C165.32 1055.94 165.73 1059.44 166.70 1062.80C167.48 1065.50 167.80 1068.73 169.90 1070.60C171.90 1072.39 175.09 1071.95 177.70 1072.60C178.99 1072.92 180.27 1073.65 181.60 1073.50C184.25 1073.20 187.01 1072.67 189.30 1071.30C191.66 1069.88 193.65 1067.75 195.10 1065.40C196.52 1063.10 197.29 1060.38 197.70 1057.70C199.03 1049.13 199.42 1040.43 200.30 1031.80C200.96 1025.33 201.73 1018.88 202.30 1012.40C202.83 1006.44 203.60 994.50 203.60 994.50C203.60 994.50 204.15 1002.11 204.60 1005.90C205.22 1011.08 206.03 1016.24 206.80 1021.40C207.83 1028.31 208.26 1035.34 210.00 1042.10C210.47 1043.93 212.60 1044.95 213.30 1046.70C214.37 1049.37 214.52 1052.31 215.20 1055.10C215.82 1057.68 217.20 1062.80 217.20 1062.80C217.20 1062.80 220.00 1063.21 220.40 1062.20C221.93 1058.34 221.67 1054.00 222.30 1049.90C222.73 1047.10 223.60 1041.50 223.60 1041.50C223.60 1041.50 226.20 1042.80 226.20 1042.80C226.20 1042.80 227.98 1040.64 228.80 1039.50C229.42 1038.64 230.50 1036.80 230.50 1036.80C230.50 1036.80 231.73 1039.40 232.00 1040.80C232.90 1045.53 233.10 1050.37 234.00 1055.10C234.83 1059.45 235.53 1063.89 237.20 1068.00C237.96 1069.86 239.37 1071.57 241.10 1072.60C243.02 1073.74 245.44 1073.64 247.60 1074.20C248.91 1074.54 250.15 1075.26 251.50 1075.30C262.33 1075.63 284.00 1075.30 284.00 1075.30M295.5 1075.3L447.0 1075.3M460.0 1075.0L531.0 1075.0M544.00 1074.60C544.00 1074.60 551.00 1073.39 553.90 1071.50C556.02 1070.12 557.68 1067.76 558.30 1065.30C560.17 1057.87 561.20 1042.50 561.20 1042.50C561.20 1042.50 563.07 1048.92 564.10 1052.10C565.30 1055.79 567.90 1063.10 567.90 1063.10C567.90 1063.10 571.19 1058.64 571.60 1056.00C573.05 1046.79 572.74 1037.40 573.40 1028.10C573.94 1020.43 574.28 1012.74 575.20 1005.10C575.75 1000.52 577.80 991.50 577.80 991.50C577.80 991.50 580.90 1007.80 580.90 1007.80C580.90 1007.80 582.67 1007.57 583.10 1006.90C584.11 1005.33 584.90 1001.60 584.90 1001.60C584.90 1001.60 586.22 1013.39 586.70 1019.30C587.42 1028.16 587.65 1037.05 588.50 1045.90C589.12 1052.39 588.98 1059.13 591.10 1065.30C592.05 1068.06 594.72 1070.12 597.30 1071.50C600.23 1073.07 607.00 1073.80 607.00 1073.80M619.00 1074.10C619.00 1074.10 624.29 1073.88 626.30 1072.40C628.20 1071.00 629.14 1068.49 629.70 1066.20C631.43 1059.12 633.10 1044.60 633.10 1044.60C633.10 1044.60 634.89 1055.72 636.50 1061.10C637.18 1063.36 639.90 1067.30 639.90 1067.30C639.90 1067.30 642.89 1065.08 643.30 1063.40C645.01 1056.38 644.46 1048.94 646.10 1041.90C646.27 1041.19 647.83 1041.34 648.30 1041.90C649.36 1043.15 650.00 1046.50 650.00 1046.50C650.00 1046.50 652.65 1030.01 653.40 1021.70C654.35 1011.19 654.60 1000.64 655.10 990.10C655.64 978.74 656.50 956.00 656.50 956.00C656.50 956.00 657.28 978.74 657.90 990.10C658.51 1001.38 659.34 1012.64 660.20 1023.90C661.04 1034.81 661.41 1045.78 663.00 1056.60C663.49 1059.96 664.38 1063.47 666.40 1066.20C667.32 1067.44 669.39 1067.62 670.90 1067.30C672.34 1066.99 673.86 1065.90 674.30 1064.50C676.94 1056.07 678.53 1047.33 679.90 1038.60C681.54 1028.13 681.92 1017.50 683.30 1007.00C684.19 1000.23 686.70 986.80 686.70 986.80C686.70 986.80 688.25 1003.99 688.90 1012.60C689.75 1023.89 690.07 1035.23 691.20 1046.50C691.77 1052.18 692.29 1057.95 694.00 1063.40C694.44 1064.80 697.40 1066.20 697.40 1066.20C697.40 1066.20 700.53 1064.38 700.80 1062.80C702.66 1051.82 702.12 1040.54 703.60 1029.50C704.09 1025.82 706.70 1018.80 706.70 1018.80C706.70 1018.80 708.14 1029.72 708.70 1035.20C709.54 1043.46 709.50 1051.82 710.90 1060.00C711.38 1062.83 714.30 1067.90 714.30 1067.90C714.30 1067.90 716.89 1067.58 717.70 1066.70C719.29 1064.96 721.10 1060.50 721.10 1060.50C721.10 1060.50 723.12 1062.31 723.90 1063.40C725.56 1065.72 726.38 1068.68 728.40 1070.70C729.53 1071.83 731.30 1072.27 732.90 1072.40C739.48 1072.94 746.17 1073.67 752.70 1072.70C754.81 1072.39 756.83 1070.65 757.70 1068.70C759.60 1064.47 759.08 1059.48 760.60 1055.10C761.22 1053.32 763.16 1052.28 764.00 1050.60C765.62 1047.34 767.31 1043.99 767.90 1040.40C769.19 1032.55 769.08 1024.54 769.60 1016.60C770.11 1008.90 771.00 993.50 771.00 993.50C771.00 993.50 772.02 1008.90 772.50 1016.60C773.09 1026.03 773.22 1035.50 774.20 1044.90C774.92 1051.76 775.60 1058.70 777.60 1065.30C778.30 1067.62 780.07 1069.67 782.10 1071.00C784.05 1072.28 786.60 1072.30 788.90 1072.70C790.78 1073.03 792.75 1073.67 794.60 1073.20C796.72 1072.66 798.66 1071.34 800.20 1069.80C802.14 1067.86 803.05 1065.10 804.80 1063.00C805.74 1061.87 807.93 1061.64 808.20 1060.20C810.07 1050.33 809.43 1040.12 811.00 1030.20C811.51 1026.97 814.40 1021.00 814.40 1021.00C814.40 1021.00 818.10 1043.20 818.10 1043.20C818.10 1043.20 819.50 1021.71 820.60 1011.00C821.76 999.70 824.90 977.20 824.90 977.20C824.90 977.20 826.51 995.94 827.40 1005.30C828.11 1012.84 829.03 1020.36 829.70 1027.90C830.53 1037.33 830.25 1046.88 831.90 1056.20C832.55 1059.87 834.49 1063.26 836.50 1066.40C837.94 1068.64 839.78 1070.79 842.10 1072.10C844.11 1073.23 846.59 1073.49 848.90 1073.40C852.00 1073.28 854.90 1071.53 858.00 1071.50C862.04 1071.46 865.97 1072.99 870.00 1073.20C875.49 1073.49 881.26 1074.67 886.50 1073.00C888.63 1072.32 888.58 1069.04 889.50 1067.00C890.54 1064.70 892.40 1060.00 892.40 1060.00C892.40 1060.00 894.01 1064.06 895.00 1066.00C896.14 1068.23 896.31 1072.16 898.80 1072.50C914.06 1074.58 929.60 1073.01 945.00 1072.80C946.47 1072.78 947.83 1071.80 949.30 1071.80C950.58 1071.80 951.72 1072.74 953.00 1072.80C959.33 1073.08 965.70 1073.40 972.00 1072.80C973.83 1072.62 975.36 1071.33 977.00 1070.50C979.30 1069.33 981.24 1067.13 983.80 1066.80C985.95 1066.52 987.98 1068.02 990.00 1068.80C993.31 1070.08 996.25 1072.91 999.80 1073.00C1057.85 1074.42 1174.00 1073.30 1174.00 1073.30" fill="none" stroke="#a50e0e" stroke-width="3.0" stroke-linejoin="round" stroke-linecap="round"/>
<g stroke="#000" stroke-width="3.2"><line x1="9.5" y1="1128.3" x2="287.5" y2="1128.3"/><line x1="284.5" y1="1130.5" x2="287.0" y2="1126.1" stroke-width="2.2"/><line x1="291" y1="1128.3" x2="451.8" y2="1128.3"/><line x1="291.5" y1="1130.5" x2="294.0" y2="1126.1" stroke-width="2.2"/><line x1="448.8" y1="1130.5" x2="451.3" y2="1126.1" stroke-width="2.2"/><line x1="455.4" y1="1128.3" x2="535.8" y2="1128.3"/><line x1="455.9" y1="1130.5" x2="458.4" y2="1126.1" stroke-width="2.2"/><line x1="532.8" y1="1130.5" x2="535.3" y2="1126.1" stroke-width="2.2"/><line x1="539.4" y1="1128.3" x2="611.3" y2="1128.3"/><line x1="539.9" y1="1130.5" x2="542.4" y2="1126.1" stroke-width="2.2"/><line x1="608.3" y1="1130.5" x2="610.8" y2="1126.1" stroke-width="2.2"/><line x1="614.8" y1="1128.3" x2="1175.7" y2="1128.3"/><line x1="615.3" y1="1130.5" x2="617.8" y2="1126.1" stroke-width="2.2"/><line x1="38.4" y1="1128.3" x2="38.4" y2="1134.6" stroke-width="2.6"/><line x1="399.4" y1="1128.3" x2="399.4" y2="1134.6" stroke-width="2.6"/><line x1="495.5" y1="1128.3" x2="495.5" y2="1134.6" stroke-width="2.6"/><line x1="841.0" y1="1128.3" x2="841.0" y2="1134.6" stroke-width="2.6"/><line x1="1119.8" y1="1128.3" x2="1119.8" y2="1134.6" stroke-width="2.6"/><line x1="178.2" y1="1128.3" x2="178.2" y2="1131.8" stroke-width="2.2"/><line x1="702.0" y1="1128.3" x2="702.0" y2="1131.8" stroke-width="2.2"/><line x1="980.8" y1="1128.3" x2="980.8" y2="1131.8" stroke-width="2.2"/></g>
<text transform="matrix(0.29597 0 0 0.31385 32.81 125.80)" style="" fill="#000">HO</text><text transform="matrix(0.29510 0 0 0.31385 110.32 71.60)" style="" fill="#000">CH</text><text transform="matrix(0.23721 0 0 0.21940 154.75 77.96)" style="" fill="#000">3</text><text transform="matrix(0.29510 0 0 0.31385 110.32 179.40)" style="" fill="#000">CH</text><text transform="matrix(0.23721 0 0 0.21940 154.75 185.46)" style="" fill="#000">3</text><text transform="matrix(0.29510 0 0 0.31385 217.32 71.60)" style="" fill="#000">CH</text><text transform="matrix(0.23721 0 0 0.21940 261.75 77.96)" style="" fill="#000">3</text><text transform="matrix(0.29510 0 0 0.31385 217.32 179.40)" style="" fill="#000">CH</text><text transform="matrix(0.23721 0 0 0.21940 261.75 185.46)" style="" fill="#000">3</text><text transform="matrix(0.29510 0 0 0.31385 323.22 71.60)" style="" fill="#000">CH</text><text transform="matrix(0.23721 0 0 0.21940 367.65 77.96)" style="" fill="#000">3</text><text transform="matrix(0.29510 0 0 0.31385 323.22 179.40)" style="" fill="#000">CH</text><text transform="matrix(0.23721 0 0 0.21940 367.65 185.46)" style="" fill="#000">3</text><text transform="matrix(0.29510 0 0 0.31385 458.72 71.60)" style="" fill="#000">CH</text><text transform="matrix(0.23721 0 0 0.21940 503.15 77.96)" style="" fill="#000">3</text><text transform="matrix(0.29510 0 0 0.31385 458.72 179.40)" style="" fill="#000">CH</text><text transform="matrix(0.23721 0 0 0.21940 503.15 185.46)" style="" fill="#000">3</text><text transform="matrix(0.29510 0 0 0.31385 565.92 71.60)" style="" fill="#000">CH</text><text transform="matrix(0.23721 0 0 0.21940 610.35 77.96)" style="" fill="#000">3</text><text transform="matrix(0.29510 0 0 0.31385 565.92 179.40)" style="" fill="#000">CH</text><text transform="matrix(0.23721 0 0 0.21940 610.35 185.46)" style="" fill="#000">3</text><text transform="matrix(0.30779 0 0 0.31385 108.06 125.80)" style="" fill="#000">Si</text><text transform="matrix(0.30779 0 0 0.31385 215.36 125.80)" style="" fill="#000">Si</text><text transform="matrix(0.30779 0 0 0.31385 321.16 125.80)" style="" fill="#000">Si</text><text transform="matrix(0.30779 0 0 0.31385 456.76 125.80)" style="" fill="#000">Si</text><text transform="matrix(0.30779 0 0 0.31385 563.46 125.80)" style="" fill="#000">Si</text><text transform="matrix(0.31176 0 0 0.31385 161.84 125.80)" style="" fill="#000">O</text><text transform="matrix(0.31176 0 0 0.31385 268.74 125.80)" style="" fill="#000">O</text><text transform="matrix(0.31176 0 0 0.31385 375.44 125.80)" style="" fill="#000">O</text><text transform="matrix(0.31176 0 0 0.31385 510.14 125.80)" style="" fill="#000">O</text><text transform="matrix(0.31176 0 0 0.31385 617.74 125.80)" style="" fill="#000">O</text><text transform="matrix(0.31176 0 0 0.31385 709.94 125.80)" style="" fill="#000">O</text><text transform="matrix(0.29265 0 0 0.28000 664.24 44.40)" style="" fill="#000">O</text><text transform="matrix(0.24627 0 0 0.25385 414.36 187.20)" style="" fill="#000">n-4</text><text transform="matrix(0.24727 0 0 0.24865 347.86 96.28)" style="font-style:italic;font-family:'Liberation Sans',sans-serif;" fill="#0e9696" stroke="#fff" stroke-width="1.01">γ</text><text transform="matrix(0.28525 0 0 0.24043 484.77 100.75)" style="font-style:italic;font-family:'Liberation Sans',sans-serif;" fill="#1010ff" stroke="#fff" stroke-width="0.95">β</text><text transform="matrix(0.26290 0 0 0.22000 588.61 100.28)" style="font-style:italic;font-family:'Liberation Sans',sans-serif;" fill="#ff0a0a" stroke="#fff" stroke-width="1.04">α</text><text transform="matrix(0.35698 0 0 0.34615 234.14 244.50) skewX(-7)" style="font-style:italic;font-variant-ligatures:none;" fill="#000" stroke="#fff" stroke-width="0.85">Transesterif<tspan dx="18">ication product</tspan></text><text transform="matrix(0.30172 0 0 0.41806 717.68 267.22)" style="font-style:italic;font-family:'DejaVu Serif',serif;" fill="#000" stroke="#fff" stroke-width="1.67">γ</text><text transform="matrix(0.39388 0 0 0.39231 369.69 399.00) skewX(-7)" style="font-style:italic;" fill="#000" stroke="#fff" stroke-width="0.76">No signal of</text><text transform="matrix(0.40923 0 0 0.38308 578.48 399.50)" style="" fill="#000" stroke="#fff" stroke-width="0.25">D</text><text transform="matrix(0.24043 0 0 0.24462 607.96 407.50)" style="" fill="#000" stroke="#fff" stroke-width="0.41">4</text><text transform="matrix(0.39235 0 0 0.39231 920.59 399.20) skewX(-7)" style="font-style:italic;" fill="#000" stroke="#fff" stroke-width="0.76">No signal of</text><text transform="matrix(0.40769 0 0 0.39846 1129.68 399.70)" style="" fill="#000" stroke="#fff" stroke-width="0.25">D</text><text transform="matrix(0.26905 0 0 0.23939 1157.82 407.06)" style="" fill="#000" stroke="#fff" stroke-width="0.39">5</text><text transform="matrix(0.33667 0 0 0.38333 1171.24 398.72)" style="" fill="#000" stroke="#fff" stroke-width="0.28">/</text><text transform="matrix(0.42769 0 0 0.39846 1181.34 399.70)" style="" fill="#000" stroke="#fff" stroke-width="0.24">D</text><text transform="matrix(0.27273 0 0 0.24030 1210.48 406.52)" style="" fill="#000" stroke="#fff" stroke-width="0.39">6</text><text transform="matrix(0.39649 0 0 0.43333 309.21 643.87) skewX(-5)" style="font-style:italic;" fill="#000" stroke="#fff" stroke-width="0.96">α</text><text transform="matrix(0.41538 0 0 0.42857 559.79 640.20) skewX(-8)" style="font-style:italic;" fill="#000" stroke="#fff" stroke-width="0.95">β</text><text transform="matrix(0.41648 0 0 0.37363 13.83 422.65)" style="" fill="#000" stroke="#fff" stroke-width="0.76">(f)</text><text transform="matrix(0.40777 0 0 0.38222 12.97 544.97)" style="" fill="#000" stroke="#fff" stroke-width="0.76">(e)</text><text transform="matrix(0.40439 0 0 0.38222 10.08 667.37)" style="" fill="#000" stroke="#fff" stroke-width="0.76">(d)</text><text transform="matrix(0.40874 0 0 0.37778 11.67 789.37)" style="" fill="#000" stroke="#fff" stroke-width="0.76">(c)</text><text transform="matrix(0.40439 0 0 0.37778 10.08 911.87)" style="" fill="#000" stroke="#fff" stroke-width="0.77">(b)</text><text transform="matrix(0.40000 0 0 0.38111 13.00 1034.30)" style="" fill="#000" stroke="#fff" stroke-width="0.77">(a)</text><text transform="matrix(0.44626 0 0 0.40000 6.25 1181.90)" style="" fill="#000" stroke="#fff" stroke-width="0.71"><tspan dy="5.5">–</tspan><tspan dy="-5.5">10</tspan></text><text transform="matrix(0.43960 0 0 0.42424 365.84 1183.40)" style="" fill="#000" stroke="#fff" stroke-width="0.69"><tspan dy="5.5">–</tspan><tspan dy="-5.5">14</tspan></text><text transform="matrix(0.44082 0 0 0.41791 464.44 1182.56)" style="" fill="#000" stroke="#fff" stroke-width="0.70"><tspan dy="5.5">–</tspan><tspan dy="-5.5">20</tspan></text><text transform="matrix(0.44014 0 0 0.42424 808.94 1182.98)" style="" fill="#000" stroke="#fff" stroke-width="0.69"><tspan dy="5.5">–</tspan><tspan dy="-5.5">22</tspan></text><text transform="matrix(0.41757 0 0 0.41791 1091.92 1182.56)" style="" fill="#000" stroke="#fff" stroke-width="0.72"><tspan dy="5.5">–</tspan><tspan dy="-5.5">23</tspan></text><text transform="matrix(0.41774 0 0 0.39121 409.41 1222.08)" style="" fill="#000" stroke="#fff" stroke-width="0.74">Chemical Shift (ppm)</text>
</g>
</svg>
</body></html>
